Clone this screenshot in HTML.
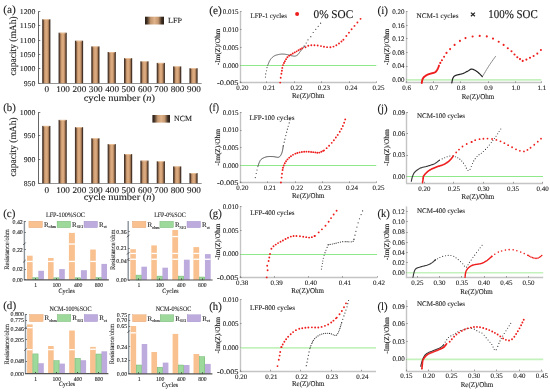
<!DOCTYPE html>
<html><head><meta charset="utf-8"><style>
html,body{margin:0;padding:0;background:#fff;}
svg{display:block;font-family:"Liberation Serif", serif;text-rendering:geometricPrecision;will-change:transform;filter:blur(0.3px);}
text{stroke:#222;stroke-width:0.1px;}
text.b{stroke-width:0.12px;}
</style></head><body>
<svg width="550" height="392" viewBox="0 0 550 392">
<rect width="550" height="392" fill="#fff"/>
<defs>
<linearGradient id="gb" x1="0" x2="1" y1="0" y2="0">
<stop offset="0" stop-color="#3b2c22"/><stop offset="0.13" stop-color="#5a4232"/><stop offset="0.28" stop-color="#c39167"/><stop offset="0.45" stop-color="#dcab80"/><stop offset="0.62" stop-color="#d8a67b"/><stop offset="0.78" stop-color="#a97b56"/><stop offset="0.9" stop-color="#4a3628"/><stop offset="1" stop-color="#3b2c22"/>
</linearGradient>
<linearGradient id="gbl" x1="0" x2="1" y1="0" y2="0">
<stop offset="0" stop-color="#2a1f18"/><stop offset="0.1" stop-color="#3e2e22"/><stop offset="0.3" stop-color="#c59870"/><stop offset="0.5" stop-color="#e0b28a"/><stop offset="0.7" stop-color="#c59870"/><stop offset="0.88" stop-color="#3e2e22"/><stop offset="1" stop-color="#2a1f18"/>
</linearGradient>
</defs>
<text class="b" x="3.2" y="12.7" font-size="11" text-anchor="start" fill="#1a1a1a" textLength="12.6" lengthAdjust="spacingAndGlyphs">(a)</text>
<line x1="38.5" y1="11.5" x2="38.5" y2="83.7" stroke="#555" stroke-width="0.9"/>
<line x1="38.3" y1="83.5" x2="201.7" y2="83.5" stroke="#888" stroke-width="0.9"/>
<line x1="38.3" y1="11.5" x2="40.3" y2="11.5" stroke="#555" stroke-width="0.8"/>
<text x="35.4" y="14.02" font-size="7.4" text-anchor="end" fill="#1a1a1a" textLength="15.6" lengthAdjust="spacingAndGlyphs">1200</text>
<line x1="38.3" y1="25.5" x2="40.3" y2="25.5" stroke="#555" stroke-width="0.8"/>
<text x="35.4" y="28.32" font-size="7.4" text-anchor="end" fill="#1a1a1a" textLength="15.6" lengthAdjust="spacingAndGlyphs">1150</text>
<line x1="38.3" y1="40.5" x2="40.3" y2="40.5" stroke="#555" stroke-width="0.8"/>
<text x="35.4" y="42.62" font-size="7.4" text-anchor="end" fill="#1a1a1a" textLength="15.6" lengthAdjust="spacingAndGlyphs">1100</text>
<line x1="38.3" y1="54.5" x2="40.3" y2="54.5" stroke="#555" stroke-width="0.8"/>
<text x="35.4" y="56.92" font-size="7.4" text-anchor="end" fill="#1a1a1a" textLength="15.6" lengthAdjust="spacingAndGlyphs">1050</text>
<line x1="38.3" y1="68.5" x2="40.3" y2="68.5" stroke="#555" stroke-width="0.8"/>
<text x="35.4" y="71.22" font-size="7.4" text-anchor="end" fill="#1a1a1a" textLength="15.6" lengthAdjust="spacingAndGlyphs">1000</text>
<line x1="38.3" y1="83.5" x2="40.3" y2="83.5" stroke="#555" stroke-width="0.8"/>
<text x="35.4" y="85.52" font-size="7.4" text-anchor="end" fill="#1a1a1a" textLength="11.7" lengthAdjust="spacingAndGlyphs">950</text>
<rect x="42.2" y="19.3" width="8.2" height="63.9" fill="url(#gb)"/>
<rect x="43.3" y="19.3" width="6" height="0.8" fill="#f0c9a2" opacity="0.8"/>
<text class="b" x="46.7" y="91.89" font-size="8.8" text-anchor="middle" fill="#1a1a1a" textLength="4.6" lengthAdjust="spacingAndGlyphs">0</text>
<rect x="58.56" y="32.7" width="8.2" height="50.5" fill="url(#gb)"/>
<rect x="59.66" y="32.7" width="6" height="0.8" fill="#f0c9a2" opacity="0.8"/>
<text class="b" x="63.06" y="91.89" font-size="8.8" text-anchor="middle" fill="#1a1a1a" textLength="13.8" lengthAdjust="spacingAndGlyphs">100</text>
<rect x="74.92" y="40.7" width="8.2" height="42.5" fill="url(#gb)"/>
<rect x="76.02" y="40.7" width="6" height="0.8" fill="#f0c9a2" opacity="0.8"/>
<text class="b" x="79.42" y="91.89" font-size="8.8" text-anchor="middle" fill="#1a1a1a" textLength="13.8" lengthAdjust="spacingAndGlyphs">200</text>
<rect x="91.28" y="46.4" width="8.2" height="36.8" fill="url(#gb)"/>
<rect x="92.38" y="46.4" width="6" height="0.8" fill="#f0c9a2" opacity="0.8"/>
<text class="b" x="95.78" y="91.89" font-size="8.8" text-anchor="middle" fill="#1a1a1a" textLength="13.8" lengthAdjust="spacingAndGlyphs">300</text>
<rect x="107.64" y="52" width="8.2" height="31.2" fill="url(#gb)"/>
<rect x="108.74" y="52" width="6" height="0.8" fill="#f0c9a2" opacity="0.8"/>
<text class="b" x="112.14" y="91.89" font-size="8.8" text-anchor="middle" fill="#1a1a1a" textLength="13.8" lengthAdjust="spacingAndGlyphs">400</text>
<rect x="124" y="58.2" width="8.2" height="25" fill="url(#gb)"/>
<rect x="125.1" y="58.2" width="6" height="0.8" fill="#f0c9a2" opacity="0.8"/>
<text class="b" x="128.5" y="91.89" font-size="8.8" text-anchor="middle" fill="#1a1a1a" textLength="13.8" lengthAdjust="spacingAndGlyphs">500</text>
<rect x="140.36" y="61.3" width="8.2" height="21.9" fill="url(#gb)"/>
<rect x="141.46" y="61.3" width="6" height="0.8" fill="#f0c9a2" opacity="0.8"/>
<text class="b" x="144.86" y="91.89" font-size="8.8" text-anchor="middle" fill="#1a1a1a" textLength="13.8" lengthAdjust="spacingAndGlyphs">600</text>
<rect x="156.72" y="62.9" width="8.2" height="20.3" fill="url(#gb)"/>
<rect x="157.82" y="62.9" width="6" height="0.8" fill="#f0c9a2" opacity="0.8"/>
<text class="b" x="161.22" y="91.89" font-size="8.8" text-anchor="middle" fill="#1a1a1a" textLength="13.8" lengthAdjust="spacingAndGlyphs">700</text>
<rect x="173.08" y="66.4" width="8.2" height="16.8" fill="url(#gb)"/>
<rect x="174.18" y="66.4" width="6" height="0.8" fill="#f0c9a2" opacity="0.8"/>
<text class="b" x="177.58" y="91.89" font-size="8.8" text-anchor="middle" fill="#1a1a1a" textLength="13.8" lengthAdjust="spacingAndGlyphs">800</text>
<rect x="189.44" y="68.2" width="8.2" height="15" fill="url(#gb)"/>
<rect x="190.54" y="68.2" width="6" height="0.8" fill="#f0c9a2" opacity="0.8"/>
<text class="b" x="193.94" y="91.89" font-size="8.8" text-anchor="middle" fill="#1a1a1a" textLength="13.8" lengthAdjust="spacingAndGlyphs">900</text>
<text class="b" x="12.6" y="49.3" font-size="9.7" text-anchor="middle" fill="#1a1a1a" transform="rotate(-90 12.6 46)" textLength="59.2" lengthAdjust="spacingAndGlyphs">capacity (mAh)</text>
<text class="b" x="119.3" y="100.9" font-size="9.5" text-anchor="middle" fill="#1a1a1a" textLength="71.3" lengthAdjust="spacingAndGlyphs">cycle number (<tspan font-style="italic">n</tspan>)</text>
<rect x="145" y="16.7" width="19" height="7.8" fill="url(#gbl)"/>
<text x="168" y="23.25" font-size="7.8" text-anchor="start" fill="#1a1a1a" textLength="14" lengthAdjust="spacingAndGlyphs">LFP</text>
<text class="b" x="3.2" y="111" font-size="11" text-anchor="start" fill="#1a1a1a" textLength="12.6" lengthAdjust="spacingAndGlyphs">(b)</text>
<line x1="38.5" y1="112.3" x2="38.5" y2="183.8" stroke="#555" stroke-width="0.9"/>
<line x1="38.3" y1="183.5" x2="201.7" y2="183.5" stroke="#888" stroke-width="0.9"/>
<line x1="38.3" y1="112.5" x2="40.3" y2="112.5" stroke="#555" stroke-width="0.8"/>
<text x="35.4" y="114.82" font-size="7.4" text-anchor="end" fill="#1a1a1a" textLength="15.6" lengthAdjust="spacingAndGlyphs">1000</text>
<line x1="38.3" y1="135.5" x2="40.3" y2="135.5" stroke="#555" stroke-width="0.8"/>
<text x="35.4" y="138.42" font-size="7.4" text-anchor="end" fill="#1a1a1a" textLength="11.7" lengthAdjust="spacingAndGlyphs">950</text>
<line x1="38.3" y1="159.5" x2="40.3" y2="159.5" stroke="#555" stroke-width="0.8"/>
<text x="35.4" y="162.12" font-size="7.4" text-anchor="end" fill="#1a1a1a" textLength="11.7" lengthAdjust="spacingAndGlyphs">900</text>
<line x1="38.3" y1="183.5" x2="40.3" y2="183.5" stroke="#555" stroke-width="0.8"/>
<text x="35.4" y="185.82" font-size="7.4" text-anchor="end" fill="#1a1a1a" textLength="11.7" lengthAdjust="spacingAndGlyphs">850</text>
<rect x="42.2" y="125.9" width="8.2" height="57.4" fill="url(#gb)"/>
<rect x="43.3" y="125.9" width="6" height="0.8" fill="#f0c9a2" opacity="0.8"/>
<text class="b" x="46.7" y="192.99" font-size="8.8" text-anchor="middle" fill="#1a1a1a" textLength="4.6" lengthAdjust="spacingAndGlyphs">0</text>
<rect x="58.56" y="119.9" width="8.2" height="63.4" fill="url(#gb)"/>
<rect x="59.66" y="119.9" width="6" height="0.8" fill="#f0c9a2" opacity="0.8"/>
<text class="b" x="63.06" y="192.99" font-size="8.8" text-anchor="middle" fill="#1a1a1a" textLength="13.8" lengthAdjust="spacingAndGlyphs">100</text>
<rect x="74.92" y="127.2" width="8.2" height="56.1" fill="url(#gb)"/>
<rect x="76.02" y="127.2" width="6" height="0.8" fill="#f0c9a2" opacity="0.8"/>
<text class="b" x="79.42" y="192.99" font-size="8.8" text-anchor="middle" fill="#1a1a1a" textLength="13.8" lengthAdjust="spacingAndGlyphs">200</text>
<rect x="91.28" y="138.3" width="8.2" height="45" fill="url(#gb)"/>
<rect x="92.38" y="138.3" width="6" height="0.8" fill="#f0c9a2" opacity="0.8"/>
<text class="b" x="95.78" y="192.99" font-size="8.8" text-anchor="middle" fill="#1a1a1a" textLength="13.8" lengthAdjust="spacingAndGlyphs">300</text>
<rect x="107.64" y="144.1" width="8.2" height="39.2" fill="url(#gb)"/>
<rect x="108.74" y="144.1" width="6" height="0.8" fill="#f0c9a2" opacity="0.8"/>
<text class="b" x="112.14" y="192.99" font-size="8.8" text-anchor="middle" fill="#1a1a1a" textLength="13.8" lengthAdjust="spacingAndGlyphs">400</text>
<rect x="124" y="154.1" width="8.2" height="29.2" fill="url(#gb)"/>
<rect x="125.1" y="154.1" width="6" height="0.8" fill="#f0c9a2" opacity="0.8"/>
<text class="b" x="128.5" y="192.99" font-size="8.8" text-anchor="middle" fill="#1a1a1a" textLength="13.8" lengthAdjust="spacingAndGlyphs">500</text>
<rect x="140.36" y="160.6" width="8.2" height="22.7" fill="url(#gb)"/>
<rect x="141.46" y="160.6" width="6" height="0.8" fill="#f0c9a2" opacity="0.8"/>
<text class="b" x="144.86" y="192.99" font-size="8.8" text-anchor="middle" fill="#1a1a1a" textLength="13.8" lengthAdjust="spacingAndGlyphs">600</text>
<rect x="156.72" y="161.3" width="8.2" height="22" fill="url(#gb)"/>
<rect x="157.82" y="161.3" width="6" height="0.8" fill="#f0c9a2" opacity="0.8"/>
<text class="b" x="161.22" y="192.99" font-size="8.8" text-anchor="middle" fill="#1a1a1a" textLength="13.8" lengthAdjust="spacingAndGlyphs">700</text>
<rect x="173.08" y="166.4" width="8.2" height="16.9" fill="url(#gb)"/>
<rect x="174.18" y="166.4" width="6" height="0.8" fill="#f0c9a2" opacity="0.8"/>
<text class="b" x="177.58" y="192.99" font-size="8.8" text-anchor="middle" fill="#1a1a1a" textLength="13.8" lengthAdjust="spacingAndGlyphs">800</text>
<rect x="189.44" y="173.1" width="8.2" height="10.2" fill="url(#gb)"/>
<rect x="190.54" y="173.1" width="6" height="0.8" fill="#f0c9a2" opacity="0.8"/>
<text class="b" x="193.94" y="192.99" font-size="8.8" text-anchor="middle" fill="#1a1a1a" textLength="13.8" lengthAdjust="spacingAndGlyphs">900</text>
<text class="b" x="12.6" y="150.3" font-size="9.7" text-anchor="middle" fill="#1a1a1a" transform="rotate(-90 12.6 147)" textLength="59.2" lengthAdjust="spacingAndGlyphs">capacity (mAh)</text>
<text class="b" x="119.3" y="200.4" font-size="9.5" text-anchor="middle" fill="#1a1a1a" textLength="71.3" lengthAdjust="spacingAndGlyphs">cycle number (<tspan font-style="italic">n</tspan>)</text>
<rect x="152.4" y="115" width="17.6" height="7.6" fill="url(#gbl)"/>
<text x="174" y="121.45" font-size="7.8" text-anchor="start" fill="#1a1a1a" textLength="17.9" lengthAdjust="spacingAndGlyphs">NCM</text>
<text class="b" x="3.2" y="216.6" font-size="11" text-anchor="start" fill="#1a1a1a" textLength="12.2" lengthAdjust="spacingAndGlyphs">(c)</text>
<text class="b" x="3.2" y="309.3" font-size="11" text-anchor="start" fill="#1a1a1a" textLength="12.9" lengthAdjust="spacingAndGlyphs">(d)</text>
<line x1="24.4" y1="221" x2="24.4" y2="279.8" stroke="#8a929a" stroke-width="1.4"/>
<line x1="24.4" y1="221.5" x2="25.9" y2="221.5" stroke="#555" stroke-width="0.8"/>
<text x="22.8" y="223.61" font-size="5.9" text-anchor="end" fill="#1a1a1a" textLength="10.33" lengthAdjust="spacingAndGlyphs">0.42</text>
<line x1="24.4" y1="232.5" x2="25.9" y2="232.5" stroke="#555" stroke-width="0.8"/>
<text x="22.8" y="234.21" font-size="5.9" text-anchor="end" fill="#1a1a1a" textLength="10.33" lengthAdjust="spacingAndGlyphs">0.40</text>
<line x1="24.4" y1="249.5" x2="25.9" y2="249.5" stroke="#555" stroke-width="0.8"/>
<text x="22.8" y="251.61" font-size="5.9" text-anchor="end" fill="#1a1a1a" textLength="10.33" lengthAdjust="spacingAndGlyphs">0.22</text>
<line x1="24.4" y1="269.5" x2="25.9" y2="269.5" stroke="#555" stroke-width="0.8"/>
<text x="22.8" y="271.31" font-size="5.9" text-anchor="end" fill="#1a1a1a" textLength="10.33" lengthAdjust="spacingAndGlyphs">0.02</text>
<line x1="24.4" y1="279.5" x2="25.9" y2="279.5" stroke="#555" stroke-width="0.8"/>
<text x="22.8" y="281.81" font-size="5.9" text-anchor="end" fill="#1a1a1a" textLength="10.33" lengthAdjust="spacingAndGlyphs">0.00</text>
<line x1="23.2" y1="245" x2="25.6" y2="242.6" stroke="#444" stroke-width="0.9"/>
<line x1="23.2" y1="262.4" x2="25.6" y2="260" stroke="#444" stroke-width="0.9"/>
<text x="45.9" y="217.1" font-size="6.8" text-anchor="start" fill="#1a1a1a" textLength="39.1" lengthAdjust="spacingAndGlyphs">LFP-100%SOC</text>
<rect x="28.9" y="221.2" width="13.5" height="6.5" fill="#f9c18f" stroke="#e0a070" stroke-width="0.4"/>
<text x="43.9" y="226.85" font-size="7" fill="#222">R<tspan font-size="4.2" dy="1.6">ohm</tspan></text>
<rect x="57.1" y="221.2" width="13.5" height="6.5" fill="#9dd99a" stroke="#70b070" stroke-width="0.4"/>
<text x="72.1" y="226.85" font-size="7" fill="#222">R<tspan font-size="4.2" dy="1.6">SEI</tspan></text>
<rect x="84" y="221.2" width="13.5" height="6.5" fill="#bdabdd" stroke="#a090c8" stroke-width="0.4"/>
<text x="99" y="226.85" font-size="7" fill="#222">R<tspan font-size="4.2" dy="1.6">ct</tspan></text>
<rect x="27" y="255.7" width="5.65" height="24.1" fill="#f9c18f"/>
<rect x="32.65" y="277.7" width="5.65" height="2.1" fill="#9dd99a"/>
<rect x="38.3" y="270.8" width="5.65" height="9" fill="#bdabdd"/>
<rect x="32.85" y="277.7" width="5.25" height="2.1" fill="none" stroke="#6fb06f" stroke-width="0.45"/>
<line x1="35.5" y1="279.8" x2="35.5" y2="278.2" stroke="#333" stroke-width="0.8"/>
<text x="35.77" y="286.54" font-size="6" text-anchor="middle" fill="#1a1a1a" textLength="2.85" lengthAdjust="spacingAndGlyphs">1</text>
<rect x="48" y="258" width="5.6" height="21.8" fill="#f9c18f"/>
<rect x="53.6" y="277.8" width="5.6" height="2" fill="#9dd99a"/>
<rect x="59.2" y="269.1" width="5.6" height="10.7" fill="#bdabdd"/>
<rect x="53.8" y="277.8" width="5.2" height="2" fill="none" stroke="#6fb06f" stroke-width="0.45"/>
<line x1="56.5" y1="279.8" x2="56.5" y2="278.2" stroke="#333" stroke-width="0.8"/>
<text x="56.7" y="286.54" font-size="6" text-anchor="middle" fill="#1a1a1a" textLength="8.55" lengthAdjust="spacingAndGlyphs">100</text>
<rect x="68.9" y="232.9" width="6" height="46.9" fill="#f9c18f"/>
<rect x="74.9" y="277.8" width="6" height="2" fill="#9dd99a"/>
<rect x="80.9" y="270.2" width="6" height="9.6" fill="#bdabdd"/>
<rect x="75.1" y="277.8" width="5.6" height="2" fill="none" stroke="#6fb06f" stroke-width="0.45"/>
<line x1="77.5" y1="279.8" x2="77.5" y2="278.2" stroke="#333" stroke-width="0.8"/>
<text x="78.2" y="286.54" font-size="6" text-anchor="middle" fill="#1a1a1a" textLength="8.55" lengthAdjust="spacingAndGlyphs">400</text>
<rect x="90.2" y="249.5" width="5.6" height="30.3" fill="#f9c18f"/>
<rect x="95.8" y="277.6" width="5.6" height="2.2" fill="#9dd99a"/>
<rect x="101.4" y="263.9" width="5.6" height="15.9" fill="#bdabdd"/>
<rect x="96" y="277.6" width="5.2" height="2.2" fill="none" stroke="#6fb06f" stroke-width="0.45"/>
<line x1="98.5" y1="279.8" x2="98.5" y2="278.2" stroke="#333" stroke-width="0.8"/>
<text x="98.9" y="286.54" font-size="6" text-anchor="middle" fill="#1a1a1a" textLength="8.55" lengthAdjust="spacingAndGlyphs">800</text>
<rect x="27" y="260.8" width="6" height="1.3" fill="#ffffff"/>
<rect x="48" y="260.8" width="6" height="1.3" fill="#ffffff"/>
<rect x="68.9" y="260.8" width="6.1" height="1.3" fill="#ffffff"/>
<rect x="68.9" y="243.4" width="6.1" height="1.3" fill="#ffffff"/>
<rect x="90.2" y="260.8" width="5.8" height="1.3" fill="#ffffff"/>
<line x1="23.9" y1="279.8" x2="108.9" y2="279.8" stroke="#555" stroke-width="1.2"/>
<text x="6.7" y="251.71" font-size="6.8" text-anchor="middle" fill="#1a1a1a" transform="rotate(-90 6.7 249.4)" textLength="40.5" lengthAdjust="spacingAndGlyphs">Resistance/ohm</text>
<text x="66.7" y="292.74" font-size="6.6" text-anchor="middle" fill="#1a1a1a" textLength="16.3" lengthAdjust="spacingAndGlyphs">Cycles</text>
<line x1="128.2" y1="221" x2="128.2" y2="280" stroke="#8a929a" stroke-width="1.4"/>
<line x1="128.2" y1="231.5" x2="129.7" y2="231.5" stroke="#555" stroke-width="0.8"/>
<text x="126.6" y="233.51" font-size="5.9" text-anchor="end" fill="#1a1a1a" textLength="10.33" lengthAdjust="spacingAndGlyphs">0.36</text>
<line x1="128.2" y1="248.5" x2="129.7" y2="248.5" stroke="#555" stroke-width="0.8"/>
<text x="126.6" y="250.01" font-size="5.9" text-anchor="end" fill="#1a1a1a" textLength="10.33" lengthAdjust="spacingAndGlyphs">0.21</text>
<line x1="128.2" y1="260.5" x2="129.7" y2="260.5" stroke="#555" stroke-width="0.8"/>
<text x="126.6" y="262.61" font-size="5.9" text-anchor="end" fill="#1a1a1a" textLength="10.33" lengthAdjust="spacingAndGlyphs">0.04</text>
<line x1="128.2" y1="280.5" x2="129.7" y2="280.5" stroke="#555" stroke-width="0.8"/>
<text x="126.6" y="282.01" font-size="5.9" text-anchor="end" fill="#1a1a1a" textLength="10.33" lengthAdjust="spacingAndGlyphs">0.00</text>
<line x1="127" y1="237.2" x2="129.4" y2="234.8" stroke="#444" stroke-width="0.9"/>
<line x1="127" y1="254.5" x2="129.4" y2="252.1" stroke="#444" stroke-width="0.9"/>
<line x1="127" y1="260.4" x2="129.4" y2="258" stroke="#444" stroke-width="0.9"/>
<text x="154.2" y="217.1" font-size="6.8" text-anchor="start" fill="#1a1a1a" textLength="31.6" lengthAdjust="spacingAndGlyphs">LFP-0%SOC</text>
<rect x="132.4" y="221.3" width="13.5" height="6.4" fill="#f9c18f" stroke="#e0a070" stroke-width="0.4"/>
<text x="147.4" y="226.9" font-size="7" fill="#222">R<tspan font-size="4.2" dy="1.6">ohm</tspan></text>
<rect x="159.9" y="221.3" width="13.5" height="6.4" fill="#9dd99a" stroke="#70b070" stroke-width="0.4"/>
<text x="174.9" y="226.9" font-size="7" fill="#222">R<tspan font-size="4.2" dy="1.6">SEI</tspan></text>
<rect x="187" y="221.3" width="13.5" height="6.4" fill="#bdabdd" stroke="#a090c8" stroke-width="0.4"/>
<text x="202" y="226.9" font-size="7" fill="#222">R<tspan font-size="4.2" dy="1.6">ct</tspan></text>
<rect x="130.3" y="249.2" width="5.55" height="30.8" fill="#f9c18f"/>
<rect x="135.85" y="275.1" width="5.55" height="4.9" fill="#9dd99a"/>
<rect x="141.4" y="266.7" width="5.55" height="13.3" fill="#bdabdd"/>
<rect x="136.05" y="275.1" width="5.15" height="4.9" fill="none" stroke="#6fb06f" stroke-width="0.45"/>
<line x1="138.5" y1="280" x2="138.5" y2="278.4" stroke="#333" stroke-width="0.8"/>
<text x="138.93" y="286.74" font-size="6" text-anchor="middle" fill="#1a1a1a" textLength="2.85" lengthAdjust="spacingAndGlyphs">1</text>
<rect x="151.3" y="245.4" width="5.55" height="34.6" fill="#f9c18f"/>
<rect x="156.85" y="276.1" width="5.55" height="3.9" fill="#9dd99a"/>
<rect x="162.4" y="267.7" width="5.55" height="12.3" fill="#bdabdd"/>
<rect x="157.05" y="276.1" width="5.15" height="3.9" fill="none" stroke="#6fb06f" stroke-width="0.45"/>
<line x1="159.5" y1="280" x2="159.5" y2="278.4" stroke="#333" stroke-width="0.8"/>
<text x="159.93" y="286.74" font-size="6" text-anchor="middle" fill="#1a1a1a" textLength="8.55" lengthAdjust="spacingAndGlyphs">100</text>
<rect x="172.3" y="230" width="5.8" height="50" fill="#f9c18f"/>
<rect x="178.1" y="276.1" width="5.8" height="3.9" fill="#9dd99a"/>
<rect x="183.9" y="259.7" width="5.8" height="20.3" fill="#bdabdd"/>
<rect x="178.3" y="276.1" width="5.4" height="3.9" fill="none" stroke="#6fb06f" stroke-width="0.45"/>
<line x1="181.5" y1="280" x2="181.5" y2="278.4" stroke="#333" stroke-width="0.8"/>
<text x="181.3" y="286.74" font-size="6" text-anchor="middle" fill="#1a1a1a" textLength="8.55" lengthAdjust="spacingAndGlyphs">400</text>
<rect x="193.4" y="247.1" width="5.77" height="32.9" fill="#f9c18f"/>
<rect x="199.17" y="277" width="5.77" height="3" fill="#9dd99a"/>
<rect x="204.94" y="254.1" width="5.77" height="25.9" fill="#bdabdd"/>
<rect x="199.37" y="277" width="5.37" height="3" fill="none" stroke="#6fb06f" stroke-width="0.45"/>
<line x1="202.5" y1="280" x2="202.5" y2="278.4" stroke="#333" stroke-width="0.8"/>
<text x="202.36" y="286.74" font-size="6" text-anchor="middle" fill="#1a1a1a" textLength="8.55" lengthAdjust="spacingAndGlyphs">800</text>
<rect x="130.3" y="252.8" width="5.7" height="1.3" fill="#ffffff"/>
<rect x="130.3" y="258.6" width="5.7" height="1.3" fill="#ffffff"/>
<rect x="151.3" y="252.8" width="5.7" height="1.3" fill="#ffffff"/>
<rect x="151.3" y="258.6" width="5.7" height="1.3" fill="#ffffff"/>
<rect x="172.3" y="235.9" width="5.9" height="1.3" fill="#ffffff"/>
<rect x="172.3" y="252.8" width="5.9" height="1.3" fill="#ffffff"/>
<rect x="172.3" y="258.6" width="5.9" height="1.3" fill="#ffffff"/>
<rect x="193.4" y="252.8" width="6.3" height="1.3" fill="#ffffff"/>
<rect x="193.4" y="258.6" width="6.3" height="1.3" fill="#ffffff"/>
<rect x="204.9" y="258.6" width="5.8" height="1.3" fill="#ffffff"/>
<line x1="127.7" y1="280" x2="212.6" y2="280" stroke="#555" stroke-width="1.2"/>
<text x="112.2" y="252.01" font-size="6.8" text-anchor="middle" fill="#1a1a1a" transform="rotate(-90 112.2 249.7)" textLength="40.5" lengthAdjust="spacingAndGlyphs">Resistance/ohm</text>
<text x="170.5" y="292.74" font-size="6.6" text-anchor="middle" fill="#1a1a1a" textLength="16.3" lengthAdjust="spacingAndGlyphs">Cycles</text>
<line x1="25.5" y1="313.9" x2="25.5" y2="373.6" stroke="#8a929a" stroke-width="1.4"/>
<line x1="25.5" y1="314.5" x2="27" y2="314.5" stroke="#555" stroke-width="0.8"/>
<text x="23.9" y="316.31" font-size="5.9" text-anchor="end" fill="#1a1a1a" textLength="13.28" lengthAdjust="spacingAndGlyphs">0.800</text>
<line x1="25.5" y1="320.5" x2="27" y2="320.5" stroke="#555" stroke-width="0.8"/>
<text x="23.9" y="322.41" font-size="5.9" text-anchor="end" fill="#1a1a1a" textLength="13.28" lengthAdjust="spacingAndGlyphs">0.775</text>
<line x1="25.5" y1="328.5" x2="27" y2="328.5" stroke="#555" stroke-width="0.8"/>
<text x="23.9" y="330.91" font-size="5.9" text-anchor="end" fill="#1a1a1a" textLength="13.28" lengthAdjust="spacingAndGlyphs">0.246</text>
<line x1="25.5" y1="339.5" x2="27" y2="339.5" stroke="#555" stroke-width="0.8"/>
<text x="23.9" y="341.61" font-size="5.9" text-anchor="end" fill="#1a1a1a" textLength="13.28" lengthAdjust="spacingAndGlyphs">0.205</text>
<line x1="25.5" y1="361.5" x2="27" y2="361.5" stroke="#555" stroke-width="0.8"/>
<text x="23.9" y="363.31" font-size="5.9" text-anchor="end" fill="#1a1a1a" textLength="13.28" lengthAdjust="spacingAndGlyphs">0.048</text>
<line x1="25.5" y1="373.5" x2="27" y2="373.5" stroke="#555" stroke-width="0.8"/>
<text x="23.9" y="375.61" font-size="5.9" text-anchor="end" fill="#1a1a1a" textLength="13.28" lengthAdjust="spacingAndGlyphs">0.000</text>
<line x1="24.3" y1="329.1" x2="26.7" y2="326.7" stroke="#444" stroke-width="0.9"/>
<line x1="24.3" y1="350.8" x2="26.7" y2="348.4" stroke="#444" stroke-width="0.9"/>
<text x="49.6" y="310.6" font-size="6.8" text-anchor="start" fill="#1a1a1a" textLength="41.9" lengthAdjust="spacingAndGlyphs">NCM-100%SOC</text>
<rect x="29.6" y="314.5" width="13.5" height="7.1" fill="#f9c18f" stroke="#e0a070" stroke-width="0.4"/>
<text x="44.6" y="320.45" font-size="7" fill="#222">R<tspan font-size="4.2" dy="1.6">ohm</tspan></text>
<rect x="57.3" y="314.5" width="13.5" height="7.1" fill="#9dd99a" stroke="#70b070" stroke-width="0.4"/>
<text x="72.3" y="320.45" font-size="7" fill="#222">R<tspan font-size="4.2" dy="1.6">SEI</tspan></text>
<rect x="84.2" y="314.5" width="13.5" height="7.1" fill="#bdabdd" stroke="#a090c8" stroke-width="0.4"/>
<text x="99.2" y="320.45" font-size="7" fill="#222">R<tspan font-size="4.2" dy="1.6">ct</tspan></text>
<rect x="27.1" y="324.4" width="5.57" height="49.2" fill="#f9c18f"/>
<rect x="32.67" y="353.9" width="5.57" height="19.7" fill="#9dd99a"/>
<rect x="38.24" y="363.2" width="5.57" height="10.4" fill="#bdabdd"/>
<rect x="32.87" y="353.9" width="5.17" height="19.7" fill="none" stroke="#6fb06f" stroke-width="0.45"/>
<line x1="35.5" y1="373.6" x2="35.5" y2="372" stroke="#333" stroke-width="0.8"/>
<text x="35.75" y="380.74" font-size="6" text-anchor="middle" fill="#1a1a1a" textLength="2.85" lengthAdjust="spacingAndGlyphs">1</text>
<rect x="48.1" y="346" width="5.6" height="27.6" fill="#f9c18f"/>
<rect x="53.7" y="360.6" width="5.6" height="13" fill="#9dd99a"/>
<rect x="59.3" y="363.6" width="5.6" height="10" fill="#bdabdd"/>
<rect x="53.9" y="360.6" width="5.2" height="13" fill="none" stroke="#6fb06f" stroke-width="0.45"/>
<line x1="56.5" y1="373.6" x2="56.5" y2="372" stroke="#333" stroke-width="0.8"/>
<text x="56.8" y="380.74" font-size="6" text-anchor="middle" fill="#1a1a1a" textLength="8.55" lengthAdjust="spacingAndGlyphs">100</text>
<rect x="69.2" y="330.5" width="5.63" height="43.1" fill="#f9c18f"/>
<rect x="74.83" y="358.3" width="5.63" height="15.3" fill="#9dd99a"/>
<rect x="80.46" y="360.2" width="5.63" height="13.4" fill="#bdabdd"/>
<rect x="75.03" y="358.3" width="5.23" height="15.3" fill="none" stroke="#6fb06f" stroke-width="0.45"/>
<line x1="77.5" y1="373.6" x2="77.5" y2="372" stroke="#333" stroke-width="0.8"/>
<text x="77.95" y="380.74" font-size="6" text-anchor="middle" fill="#1a1a1a" textLength="8.55" lengthAdjust="spacingAndGlyphs">400</text>
<rect x="90.1" y="346.9" width="5.67" height="26.7" fill="#f9c18f"/>
<rect x="95.77" y="354" width="5.67" height="19.6" fill="#9dd99a"/>
<rect x="101.44" y="351.3" width="5.67" height="22.3" fill="#bdabdd"/>
<rect x="95.97" y="354" width="5.27" height="19.6" fill="none" stroke="#6fb06f" stroke-width="0.45"/>
<line x1="98.5" y1="373.6" x2="98.5" y2="372" stroke="#333" stroke-width="0.8"/>
<text x="98.9" y="380.74" font-size="6" text-anchor="middle" fill="#1a1a1a" textLength="8.55" lengthAdjust="spacingAndGlyphs">800</text>
<rect x="27.1" y="327" width="5.6" height="1.3" fill="#ffffff"/>
<rect x="27.1" y="349" width="5.6" height="1.3" fill="#ffffff"/>
<rect x="48.1" y="349" width="5.7" height="1.3" fill="#ffffff"/>
<rect x="69.2" y="349" width="5.6" height="1.3" fill="#ffffff"/>
<rect x="90.1" y="348.6" width="5.7" height="1.3" fill="#ffffff"/>
<line x1="25" y1="373.6" x2="108.4" y2="373.6" stroke="#555" stroke-width="1.2"/>
<text x="6.7" y="346.61" font-size="6.8" text-anchor="middle" fill="#1a1a1a" transform="rotate(-90 6.7 344.3)" textLength="40.5" lengthAdjust="spacingAndGlyphs">Resistance/ohm</text>
<text x="67" y="386.44" font-size="6.6" text-anchor="middle" fill="#1a1a1a" textLength="16.3" lengthAdjust="spacingAndGlyphs">Cycles</text>
<line x1="128.7" y1="314.2" x2="128.7" y2="373.9" stroke="#8a929a" stroke-width="1.4"/>
<line x1="128.7" y1="314.5" x2="130.2" y2="314.5" stroke="#555" stroke-width="0.8"/>
<text x="127.1" y="316.81" font-size="5.9" text-anchor="end" fill="#1a1a1a" textLength="10.33" lengthAdjust="spacingAndGlyphs">0.75</text>
<line x1="128.7" y1="320.5" x2="130.2" y2="320.5" stroke="#555" stroke-width="0.8"/>
<text x="127.1" y="322.31" font-size="5.9" text-anchor="end" fill="#1a1a1a" textLength="10.33" lengthAdjust="spacingAndGlyphs">0.70</text>
<line x1="128.7" y1="326.5" x2="130.2" y2="326.5" stroke="#555" stroke-width="0.8"/>
<text x="127.1" y="328.31" font-size="5.9" text-anchor="end" fill="#1a1a1a" textLength="10.33" lengthAdjust="spacingAndGlyphs">0.65</text>
<line x1="128.7" y1="346.5" x2="130.2" y2="346.5" stroke="#555" stroke-width="0.8"/>
<text x="127.1" y="348.71" font-size="5.9" text-anchor="end" fill="#1a1a1a" textLength="10.33" lengthAdjust="spacingAndGlyphs">0.24</text>
<line x1="128.7" y1="360.5" x2="130.2" y2="360.5" stroke="#555" stroke-width="0.8"/>
<text x="127.1" y="362.41" font-size="5.9" text-anchor="end" fill="#1a1a1a" textLength="10.33" lengthAdjust="spacingAndGlyphs">0.12</text>
<line x1="128.7" y1="373.5" x2="130.2" y2="373.5" stroke="#555" stroke-width="0.8"/>
<text x="127.1" y="375.91" font-size="5.9" text-anchor="end" fill="#1a1a1a" textLength="10.33" lengthAdjust="spacingAndGlyphs">0.00</text>
<line x1="127.5" y1="332.8" x2="129.9" y2="330.4" stroke="#444" stroke-width="0.9"/>
<text x="155.7" y="310.6" font-size="6.8" text-anchor="start" fill="#1a1a1a" textLength="35.6" lengthAdjust="spacingAndGlyphs">NCM-0%SOC</text>
<rect x="132.6" y="314.8" width="13.5" height="7" fill="#f9c18f" stroke="#e0a070" stroke-width="0.4"/>
<text x="147.6" y="320.7" font-size="7" fill="#222">R<tspan font-size="4.2" dy="1.6">ohm</tspan></text>
<rect x="160.2" y="314.8" width="13.5" height="7" fill="#9dd99a" stroke="#70b070" stroke-width="0.4"/>
<text x="175.2" y="320.7" font-size="7" fill="#222">R<tspan font-size="4.2" dy="1.6">SEI</tspan></text>
<rect x="187.2" y="314.8" width="13.5" height="7" fill="#bdabdd" stroke="#a090c8" stroke-width="0.4"/>
<text x="202.2" y="320.7" font-size="7" fill="#222">R<tspan font-size="4.2" dy="1.6">ct</tspan></text>
<rect x="130.6" y="326" width="5.55" height="47.9" fill="#f9c18f"/>
<rect x="136.15" y="365" width="5.55" height="8.9" fill="#9dd99a"/>
<rect x="141.7" y="344" width="5.55" height="29.9" fill="#bdabdd"/>
<rect x="136.35" y="365" width="5.15" height="8.9" fill="none" stroke="#6fb06f" stroke-width="0.45"/>
<line x1="138.5" y1="373.9" x2="138.5" y2="372.3" stroke="#333" stroke-width="0.8"/>
<text x="139.22" y="381.04" font-size="6" text-anchor="middle" fill="#1a1a1a" textLength="2.85" lengthAdjust="spacingAndGlyphs">1</text>
<rect x="151.4" y="352" width="5.67" height="21.9" fill="#f9c18f"/>
<rect x="157.07" y="367.2" width="5.67" height="6.7" fill="#9dd99a"/>
<rect x="162.74" y="362.6" width="5.67" height="11.3" fill="#bdabdd"/>
<rect x="157.27" y="367.2" width="5.27" height="6.7" fill="none" stroke="#6fb06f" stroke-width="0.45"/>
<line x1="159.5" y1="373.9" x2="159.5" y2="372.3" stroke="#333" stroke-width="0.8"/>
<text x="160.21" y="381.04" font-size="6" text-anchor="middle" fill="#1a1a1a" textLength="8.55" lengthAdjust="spacingAndGlyphs">100</text>
<rect x="172.6" y="333.9" width="5.63" height="40" fill="#f9c18f"/>
<rect x="178.23" y="365" width="5.63" height="8.9" fill="#9dd99a"/>
<rect x="183.86" y="365" width="5.63" height="8.9" fill="#bdabdd"/>
<rect x="178.43" y="365" width="5.23" height="8.9" fill="none" stroke="#6fb06f" stroke-width="0.45"/>
<line x1="181.5" y1="373.9" x2="181.5" y2="372.3" stroke="#333" stroke-width="0.8"/>
<text x="181.34" y="381.04" font-size="6" text-anchor="middle" fill="#1a1a1a" textLength="8.55" lengthAdjust="spacingAndGlyphs">400</text>
<rect x="193.5" y="354" width="5.73" height="19.9" fill="#f9c18f"/>
<rect x="199.23" y="356.6" width="5.73" height="17.3" fill="#9dd99a"/>
<rect x="204.96" y="363.9" width="5.73" height="10" fill="#bdabdd"/>
<rect x="199.43" y="356.6" width="5.33" height="17.3" fill="none" stroke="#6fb06f" stroke-width="0.45"/>
<line x1="202.5" y1="373.9" x2="202.5" y2="372.3" stroke="#333" stroke-width="0.8"/>
<text x="202.4" y="381.04" font-size="6" text-anchor="middle" fill="#1a1a1a" textLength="8.55" lengthAdjust="spacingAndGlyphs">800</text>
<rect x="130.6" y="332.2" width="5.3" height="1.3" fill="#ffffff"/>
<line x1="128.2" y1="373.9" x2="212.4" y2="373.9" stroke="#555" stroke-width="1.2"/>
<text x="112.2" y="346.31" font-size="6.8" text-anchor="middle" fill="#1a1a1a" transform="rotate(-90 112.2 344)" textLength="40.5" lengthAdjust="spacingAndGlyphs">Resistance/ohm</text>
<text x="170" y="386.84" font-size="6.6" text-anchor="middle" fill="#1a1a1a" textLength="16.3" lengthAdjust="spacingAndGlyphs">Cycles</text>
<line x1="240.5" y1="11.2" x2="240.5" y2="82.8" stroke="#c4c4c4" stroke-width="1.4"/>
<line x1="239.6" y1="82.5" x2="376.3" y2="82.5" stroke="#c4c4c4" stroke-width="1.4"/>
<line x1="240.1" y1="11.5" x2="241.6" y2="11.5" stroke="#666" stroke-width="0.6"/>
<text x="238.5" y="14.08" font-size="7" text-anchor="end" fill="#1a1a1a" textLength="15.75" lengthAdjust="spacingAndGlyphs">0.015</text>
<line x1="240.1" y1="29.5" x2="241.6" y2="29.5" stroke="#666" stroke-width="0.6"/>
<text x="238.5" y="31.98" font-size="7" text-anchor="end" fill="#1a1a1a" textLength="15.75" lengthAdjust="spacingAndGlyphs">0.010</text>
<line x1="240.1" y1="47.5" x2="241.6" y2="47.5" stroke="#666" stroke-width="0.6"/>
<text x="238.5" y="49.78" font-size="7" text-anchor="end" fill="#1a1a1a" textLength="15.75" lengthAdjust="spacingAndGlyphs">0.005</text>
<line x1="240.1" y1="65.5" x2="241.6" y2="65.5" stroke="#666" stroke-width="0.6"/>
<text x="238.5" y="67.68" font-size="7" text-anchor="end" fill="#1a1a1a" textLength="15.75" lengthAdjust="spacingAndGlyphs">0.000</text>
<line x1="240.1" y1="82.5" x2="241.6" y2="82.5" stroke="#666" stroke-width="0.6"/>
<text x="238.5" y="85.18" font-size="7" text-anchor="end" fill="#1a1a1a" textLength="21.55" lengthAdjust="spacingAndGlyphs">-0.005</text>
<line x1="240.5" y1="82.8" x2="240.5" y2="81.3" stroke="#666" stroke-width="0.6"/>
<text x="242.3" y="90.11" font-size="6.8" text-anchor="middle" fill="#1a1a1a" textLength="12.25" lengthAdjust="spacingAndGlyphs">0.20</text>
<line x1="266.5" y1="82.8" x2="266.5" y2="81.3" stroke="#666" stroke-width="0.6"/>
<text x="269.1" y="90.11" font-size="6.8" text-anchor="middle" fill="#1a1a1a" textLength="12.25" lengthAdjust="spacingAndGlyphs">0.21</text>
<line x1="294.5" y1="82.8" x2="294.5" y2="81.3" stroke="#666" stroke-width="0.6"/>
<text x="296.5" y="90.11" font-size="6.8" text-anchor="middle" fill="#1a1a1a" textLength="12.25" lengthAdjust="spacingAndGlyphs">0.22</text>
<line x1="321.5" y1="82.8" x2="321.5" y2="81.3" stroke="#666" stroke-width="0.6"/>
<text x="323.9" y="90.11" font-size="6.8" text-anchor="middle" fill="#1a1a1a" textLength="12.25" lengthAdjust="spacingAndGlyphs">0.23</text>
<line x1="349.5" y1="82.8" x2="349.5" y2="81.3" stroke="#666" stroke-width="0.6"/>
<text x="351.2" y="90.11" font-size="6.8" text-anchor="middle" fill="#1a1a1a" textLength="12.25" lengthAdjust="spacingAndGlyphs">0.24</text>
<line x1="376.5" y1="82.8" x2="376.5" y2="81.3" stroke="#666" stroke-width="0.6"/>
<text x="378.5" y="90.11" font-size="6.8" text-anchor="middle" fill="#1a1a1a" textLength="12.25" lengthAdjust="spacingAndGlyphs">0.25</text>
<line x1="240.6" y1="65.5" x2="376.3" y2="65.5" stroke="#8fe88a" stroke-width="1"/>
<text class="b" x="209.3" y="13.5" font-size="11.3" text-anchor="start" fill="#1a1a1a" textLength="12.6" lengthAdjust="spacingAndGlyphs">(e)</text>
<text x="250.6" y="17.6" font-size="7" text-anchor="start" fill="#1a1a1a" textLength="36.3" lengthAdjust="spacingAndGlyphs">LFP-1 cycles</text>
<text x="217.9" y="49.52" font-size="7.4" text-anchor="middle" fill="#1a1a1a" transform="rotate(-90 217.9 47)" textLength="36.5" lengthAdjust="spacingAndGlyphs">-Im(Z)/Ohm</text>
<text x="308.2" y="98" font-size="7.4" text-anchor="middle" fill="#1a1a1a" textLength="32.5" lengthAdjust="spacingAndGlyphs">Re(Z)/Ohm</text>
<circle cx="265.4" cy="77.1" r="0.55" fill="#333333"/>
<circle cx="265.7" cy="73.9" r="0.55" fill="#333333"/>
<circle cx="266.4" cy="70.7" r="0.55" fill="#333333"/>
<circle cx="267" cy="67.6" r="0.55" fill="#333333"/>
<polyline fill="none" stroke="#444" stroke-width="0.85" stroke-linejoin="round" stroke-linecap="round" points="267.7,65.4 267.82,65.13 267.96,64.78 268.12,64.37 268.3,63.91 268.5,63.41 268.71,62.89 268.94,62.35 269.18,61.81 269.42,61.28 269.68,60.78 269.94,60.32 270.2,59.9 270.47,59.52 270.74,59.14 271.03,58.78 271.32,58.43 271.63,58.09 271.94,57.76 272.26,57.45 272.59,57.15 272.93,56.86 273.28,56.59 273.63,56.34 274,56.1 274.38,55.88 274.78,55.68 275.2,55.49 275.63,55.33 276.06,55.17 276.51,55.03 276.95,54.9 277.4,54.79 277.84,54.68 278.27,54.58 278.69,54.49 279.1,54.4 279.5,54.32 279.88,54.26 280.27,54.2 280.64,54.16 281.02,54.13 281.39,54.1 281.76,54.08 282.12,54.07 282.49,54.07 282.86,54.08 283.23,54.09 283.6,54.1 283.98,54.12 284.36,54.16 284.74,54.2 285.13,54.25 285.51,54.31 285.89,54.37 286.27,54.44 286.65,54.51 287.02,54.58 287.39,54.65 287.75,54.73 288.1,54.8 288.44,54.88 288.78,54.96 289.11,55.05 289.44,55.14 289.76,55.23 290.08,55.32 290.39,55.42 290.7,55.51 291.01,55.59 291.31,55.67 291.61,55.74 291.9,55.8 292.19,55.85 292.47,55.91 292.76,55.96 293.03,56.01 293.31,56.06 293.57,56.09 293.84,56.12 294.1,56.14 294.36,56.15 294.61,56.15 294.86,56.13 295.1,56.1 295.34,56.05 295.57,56 295.79,55.93 296.01,55.86 296.23,55.77 296.44,55.67 296.65,55.56 296.86,55.43 297.07,55.3 297.28,55.15 297.49,54.98 297.7,54.8 297.91,54.6 298.12,54.38 298.33,54.13 298.54,53.87 298.74,53.6 298.95,53.32 299.16,53.03 299.36,52.74 299.57,52.44 299.78,52.16 299.99,51.87 300.2,51.6 300.42,51.33 300.64,51.06 300.86,50.78 301.09,50.51 301.31,50.23 301.54,49.96 301.76,49.68 301.98,49.41 302.2,49.15 302.41,48.89 302.61,48.64 302.8,48.4 302.99,48.16 303.18,47.91 303.37,47.67 303.56,47.42 303.74,47.18 303.91,46.95 304.08,46.73 304.23,46.52 304.38,46.33 304.5,46.16 304.61,46.02 304.7,45.9"/>
<circle cx="304.1" cy="46.1" r="0.6" fill="#333333"/>
<circle cx="306.2" cy="43" r="0.6" fill="#333333"/>
<circle cx="308" cy="39.8" r="0.6" fill="#333333"/>
<circle cx="310.8" cy="36.7" r="0.6" fill="#333333"/>
<circle cx="313.2" cy="32.5" r="0.6" fill="#333333"/>
<circle cx="315.8" cy="29.3" r="0.6" fill="#333333"/>
<circle cx="318.2" cy="26.3" r="0.6" fill="#333333"/>
<circle cx="320.6" cy="23.2" r="0.6" fill="#333333"/>
<circle cx="280.2" cy="82.6" r="0.95" fill="#ee1c1c"/>
<circle cx="280.7" cy="77.7" r="0.95" fill="#ee1c1c"/>
<circle cx="281.4" cy="73.8" r="0.95" fill="#ee1c1c"/>
<circle cx="281.9" cy="70.7" r="0.95" fill="#ee1c1c"/>
<circle cx="282.3" cy="67.9" r="0.95" fill="#ee1c1c"/>
<circle cx="283" cy="65.1" r="0.95" fill="#ee1c1c"/>
<circle cx="283.97" cy="63.02" r="0.95" fill="#ee1c1c"/>
<circle cx="284.9" cy="61.2" r="0.95" fill="#ee1c1c"/>
<circle cx="286.07" cy="59.16" r="0.95" fill="#ee1c1c"/>
<circle cx="287.4" cy="57.3" r="0.95" fill="#ee1c1c"/>
<circle cx="289.14" cy="55.78" r="0.95" fill="#ee1c1c"/>
<circle cx="290.93" cy="54.59" r="0.95" fill="#ee1c1c"/>
<circle cx="292.77" cy="53.5" r="0.95" fill="#ee1c1c"/>
<circle cx="294.72" cy="52.41" r="0.95" fill="#ee1c1c"/>
<circle cx="296.63" cy="51.34" r="0.95" fill="#ee1c1c"/>
<circle cx="298.52" cy="50.29" r="0.95" fill="#ee1c1c"/>
<circle cx="300.32" cy="49.3" r="0.95" fill="#ee1c1c"/>
<circle cx="302.12" cy="48.31" r="0.95" fill="#ee1c1c"/>
<circle cx="305.5" cy="47.3" r="0.95" fill="#ee1c1c"/>
<circle cx="308.3" cy="45.7" r="0.95" fill="#ee1c1c"/>
<circle cx="311.33" cy="45.22" r="0.95" fill="#ee1c1c"/>
<circle cx="314.44" cy="45.19" r="0.95" fill="#ee1c1c"/>
<circle cx="317.7" cy="45.46" r="0.95" fill="#ee1c1c"/>
<circle cx="320.98" cy="46.1" r="0.95" fill="#ee1c1c"/>
<circle cx="323.97" cy="46.68" r="0.95" fill="#ee1c1c"/>
<circle cx="327.07" cy="47.14" r="0.95" fill="#ee1c1c"/>
<circle cx="330.4" cy="47.3" r="0.95" fill="#ee1c1c"/>
<circle cx="333.5" cy="46.58" r="0.95" fill="#ee1c1c"/>
<circle cx="336.36" cy="45.3" r="0.95" fill="#ee1c1c"/>
<circle cx="339" cy="43.5" r="0.95" fill="#ee1c1c"/>
<circle cx="341.45" cy="41.44" r="0.95" fill="#ee1c1c"/>
<circle cx="343.4" cy="39.7" r="0.95" fill="#ee1c1c"/>
<circle cx="346.35" cy="35.96" r="0.95" fill="#ee1c1c"/>
<circle cx="348.95" cy="32.64" r="0.95" fill="#ee1c1c"/>
<circle cx="351.61" cy="29.28" r="0.95" fill="#ee1c1c"/>
<circle cx="354.48" cy="25.89" r="0.95" fill="#ee1c1c"/>
<circle cx="357.42" cy="22.51" r="0.95" fill="#ee1c1c"/>
<circle cx="360.56" cy="18.84" r="0.95" fill="#ee1c1c"/>
<circle cx="297.1" cy="14.1" r="2" fill="#ee1c1c"/>
<text class="b" x="313.5" y="18" font-size="11.8" text-anchor="start" fill="#1a1a1a" textLength="39.7" lengthAdjust="spacingAndGlyphs" style="stroke-width:0.15px">0% SOC</text>
<line x1="240.5" y1="112" x2="240.5" y2="182.8" stroke="#c4c4c4" stroke-width="1.4"/>
<line x1="239.6" y1="182.5" x2="376.3" y2="182.5" stroke="#c4c4c4" stroke-width="1.4"/>
<line x1="240.1" y1="112.5" x2="241.6" y2="112.5" stroke="#666" stroke-width="0.6"/>
<text x="238.5" y="114.68" font-size="7" text-anchor="end" fill="#1a1a1a" textLength="15.75" lengthAdjust="spacingAndGlyphs">0.015</text>
<line x1="240.1" y1="130.5" x2="241.6" y2="130.5" stroke="#666" stroke-width="0.6"/>
<text x="238.5" y="132.38" font-size="7" text-anchor="end" fill="#1a1a1a" textLength="15.75" lengthAdjust="spacingAndGlyphs">0.010</text>
<line x1="240.1" y1="147.5" x2="241.6" y2="147.5" stroke="#666" stroke-width="0.6"/>
<text x="238.5" y="150.08" font-size="7" text-anchor="end" fill="#1a1a1a" textLength="15.75" lengthAdjust="spacingAndGlyphs">0.005</text>
<line x1="240.1" y1="165.5" x2="241.6" y2="165.5" stroke="#666" stroke-width="0.6"/>
<text x="238.5" y="167.88" font-size="7" text-anchor="end" fill="#1a1a1a" textLength="15.75" lengthAdjust="spacingAndGlyphs">0.000</text>
<line x1="240.1" y1="182.5" x2="241.6" y2="182.5" stroke="#666" stroke-width="0.6"/>
<text x="238.5" y="185.18" font-size="7" text-anchor="end" fill="#1a1a1a" textLength="21.55" lengthAdjust="spacingAndGlyphs">-0.005</text>
<line x1="240.5" y1="182.8" x2="240.5" y2="181.3" stroke="#666" stroke-width="0.6"/>
<text x="242.3" y="190.11" font-size="6.8" text-anchor="middle" fill="#1a1a1a" textLength="12.25" lengthAdjust="spacingAndGlyphs">0.20</text>
<line x1="267.5" y1="182.8" x2="267.5" y2="181.3" stroke="#666" stroke-width="0.6"/>
<text x="269.8" y="190.11" font-size="6.8" text-anchor="middle" fill="#1a1a1a" textLength="12.25" lengthAdjust="spacingAndGlyphs">0.21</text>
<line x1="295.5" y1="182.8" x2="295.5" y2="181.3" stroke="#666" stroke-width="0.6"/>
<text x="297.2" y="190.11" font-size="6.8" text-anchor="middle" fill="#1a1a1a" textLength="12.25" lengthAdjust="spacingAndGlyphs">0.22</text>
<line x1="322.5" y1="182.8" x2="322.5" y2="181.3" stroke="#666" stroke-width="0.6"/>
<text x="324.6" y="190.11" font-size="6.8" text-anchor="middle" fill="#1a1a1a" textLength="12.25" lengthAdjust="spacingAndGlyphs">0.23</text>
<line x1="349.5" y1="182.8" x2="349.5" y2="181.3" stroke="#666" stroke-width="0.6"/>
<text x="352" y="190.11" font-size="6.8" text-anchor="middle" fill="#1a1a1a" textLength="12.25" lengthAdjust="spacingAndGlyphs">0.24</text>
<line x1="376.5" y1="182.8" x2="376.5" y2="181.3" stroke="#666" stroke-width="0.6"/>
<text x="378.5" y="190.11" font-size="6.8" text-anchor="middle" fill="#1a1a1a" textLength="12.25" lengthAdjust="spacingAndGlyphs">0.25</text>
<line x1="240.6" y1="165.5" x2="376.3" y2="165.5" stroke="#8fe88a" stroke-width="1"/>
<text class="b" x="209.3" y="111.2" font-size="11.3" text-anchor="start" fill="#1a1a1a" textLength="9.8" lengthAdjust="spacingAndGlyphs">(f)</text>
<text x="249.5" y="119.5" font-size="7" text-anchor="start" fill="#1a1a1a" textLength="45" lengthAdjust="spacingAndGlyphs">LFP-100 cycles</text>
<text x="217.9" y="149.92" font-size="7.4" text-anchor="middle" fill="#1a1a1a" transform="rotate(-90 217.9 147.4)" textLength="36.5" lengthAdjust="spacingAndGlyphs">-Im(Z)/Ohm</text>
<text x="308.2" y="198" font-size="7.4" text-anchor="middle" fill="#1a1a1a" textLength="32.5" lengthAdjust="spacingAndGlyphs">Re(Z)/Ohm</text>
<circle cx="255.3" cy="177.6" r="0.6" fill="#333333"/>
<circle cx="256.2" cy="173.5" r="0.6" fill="#333333"/>
<circle cx="257" cy="170" r="0.6" fill="#333333"/>
<polyline fill="none" stroke="#444" stroke-width="1" stroke-linejoin="round" stroke-linecap="round" points="257.8,166.7 257.88,166.47 257.98,166.17 258.1,165.82 258.23,165.42 258.37,164.99 258.52,164.54 258.68,164.08 258.84,163.61 259.01,163.17 259.17,162.74 259.34,162.35 259.5,162 259.65,161.69 259.79,161.39 259.93,161.11 260.06,160.84 260.19,160.59 260.34,160.34 260.49,160.11 260.66,159.88 260.85,159.65 261.07,159.43 261.32,159.22 261.6,159 261.92,158.78 262.26,158.56 262.63,158.35 263.03,158.13 263.45,157.93 263.88,157.72 264.33,157.53 264.79,157.36 265.26,157.19 265.74,157.04 266.22,156.91 266.7,156.8 267.19,156.71 267.71,156.64 268.24,156.59 268.79,156.55 269.34,156.53 269.9,156.52 270.46,156.52 271.01,156.53 271.56,156.54 272.09,156.56 272.61,156.58 273.1,156.6 273.58,156.63 274.06,156.69 274.53,156.77 275,156.86 275.45,156.95 275.9,157.05 276.33,157.14 276.75,157.22 277.15,157.28 277.52,157.32 277.87,157.33 278.2,157.3 278.5,157.24 278.76,157.17 279.01,157.08 279.23,156.97 279.43,156.84 279.61,156.69 279.79,156.53 279.95,156.36 280.11,156.16 280.27,155.96 280.43,155.73 280.6,155.5 280.77,155.25 280.93,154.98 281.09,154.69 281.24,154.39 281.39,154.08 281.54,153.74 281.68,153.4 281.81,153.04 281.94,152.67 282.07,152.29 282.19,151.9 282.3,151.5 282.41,151.07 282.52,150.58 282.62,150.06 282.72,149.51 282.82,148.96 282.91,148.4 282.99,147.86 283.07,147.34 283.14,146.86 283.2,146.44 283.25,146.08 283.3,145.8"/>
<circle cx="283.3" cy="145.8" r="0.6" fill="#333333"/>
<circle cx="284.19" cy="142.14" r="0.6" fill="#333333"/>
<circle cx="284.92" cy="139.19" r="0.6" fill="#333333"/>
<circle cx="285.8" cy="135.6" r="0.6" fill="#333333"/>
<circle cx="286.63" cy="132.19" r="0.6" fill="#333333"/>
<circle cx="287.39" cy="129.17" r="0.6" fill="#333333"/>
<circle cx="288.2" cy="126.25" r="0.6" fill="#333333"/>
<circle cx="289.21" cy="122.96" r="0.6" fill="#333333"/>
<circle cx="290.01" cy="119.8" r="0.6" fill="#333333"/>
<circle cx="280.9" cy="182.5" r="0.95" fill="#ee1c1c"/>
<circle cx="281.6" cy="177.6" r="0.95" fill="#ee1c1c"/>
<circle cx="282" cy="173.8" r="0.95" fill="#ee1c1c"/>
<circle cx="282.6" cy="170" r="0.95" fill="#ee1c1c"/>
<circle cx="282.98" cy="167.73" r="0.95" fill="#ee1c1c"/>
<circle cx="283.77" cy="165.53" r="0.95" fill="#ee1c1c"/>
<circle cx="284.8" cy="163.31" r="0.95" fill="#ee1c1c"/>
<circle cx="286.06" cy="161.21" r="0.95" fill="#ee1c1c"/>
<circle cx="287.46" cy="159.38" r="0.95" fill="#ee1c1c"/>
<circle cx="289.19" cy="157.64" r="0.95" fill="#ee1c1c"/>
<circle cx="290.96" cy="156.25" r="0.95" fill="#ee1c1c"/>
<circle cx="293.02" cy="154.85" r="0.95" fill="#ee1c1c"/>
<circle cx="295.37" cy="153.65" r="0.95" fill="#ee1c1c"/>
<circle cx="297.34" cy="152.96" r="0.95" fill="#ee1c1c"/>
<circle cx="299.53" cy="152.42" r="0.95" fill="#ee1c1c"/>
<circle cx="301.84" cy="152.02" r="0.95" fill="#ee1c1c"/>
<circle cx="304.15" cy="151.76" r="0.95" fill="#ee1c1c"/>
<circle cx="306.43" cy="151.66" r="0.95" fill="#ee1c1c"/>
<circle cx="308.8" cy="151.75" r="0.95" fill="#ee1c1c"/>
<circle cx="311.11" cy="151.95" r="0.95" fill="#ee1c1c"/>
<circle cx="313.19" cy="152.15" r="0.95" fill="#ee1c1c"/>
<circle cx="315.34" cy="152.39" r="0.95" fill="#ee1c1c"/>
<circle cx="317.34" cy="152.74" r="0.95" fill="#ee1c1c"/>
<circle cx="319.34" cy="152.6" r="0.95" fill="#ee1c1c"/>
<circle cx="321.28" cy="151.82" r="0.95" fill="#ee1c1c"/>
<circle cx="323.08" cy="150.88" r="0.95" fill="#ee1c1c"/>
<circle cx="324" cy="150.4" r="0.95" fill="#ee1c1c"/>
<circle cx="326.63" cy="148.16" r="0.95" fill="#ee1c1c"/>
<circle cx="329.1" cy="145.8" r="0.95" fill="#ee1c1c"/>
<circle cx="331.7" cy="142.85" r="0.95" fill="#ee1c1c"/>
<circle cx="333.88" cy="140.18" r="0.95" fill="#ee1c1c"/>
<circle cx="335.87" cy="137.56" r="0.95" fill="#ee1c1c"/>
<circle cx="337.72" cy="134.91" r="0.95" fill="#ee1c1c"/>
<circle cx="339.79" cy="131.69" r="0.95" fill="#ee1c1c"/>
<circle cx="341.42" cy="128.89" r="0.95" fill="#ee1c1c"/>
<circle cx="342.86" cy="125.97" r="0.95" fill="#ee1c1c"/>
<circle cx="344.14" cy="122.82" r="0.95" fill="#ee1c1c"/>
<circle cx="345.24" cy="119.42" r="0.95" fill="#ee1c1c"/>
<line x1="240.5" y1="206" x2="240.5" y2="277.6" stroke="#c4c4c4" stroke-width="1.4"/>
<line x1="239.6" y1="277.5" x2="377" y2="277.5" stroke="#c4c4c4" stroke-width="1.4"/>
<line x1="240.1" y1="206.5" x2="241.6" y2="206.5" stroke="#666" stroke-width="0.6"/>
<text x="238.5" y="208.88" font-size="7" text-anchor="end" fill="#1a1a1a" textLength="15.75" lengthAdjust="spacingAndGlyphs">0.010</text>
<line x1="240.1" y1="230.5" x2="241.6" y2="230.5" stroke="#666" stroke-width="0.6"/>
<text x="238.5" y="232.68" font-size="7" text-anchor="end" fill="#1a1a1a" textLength="15.75" lengthAdjust="spacingAndGlyphs">0.005</text>
<line x1="240.1" y1="254.5" x2="241.6" y2="254.5" stroke="#666" stroke-width="0.6"/>
<text x="238.5" y="256.38" font-size="7" text-anchor="end" fill="#1a1a1a" textLength="15.75" lengthAdjust="spacingAndGlyphs">0.000</text>
<line x1="240.1" y1="277.5" x2="241.6" y2="277.5" stroke="#666" stroke-width="0.6"/>
<text x="238.5" y="279.98" font-size="7" text-anchor="end" fill="#1a1a1a" textLength="21.55" lengthAdjust="spacingAndGlyphs">-0.005</text>
<line x1="240.5" y1="277.6" x2="240.5" y2="276.1" stroke="#666" stroke-width="0.6"/>
<text x="242.1" y="284.91" font-size="6.8" text-anchor="middle" fill="#1a1a1a" textLength="12.25" lengthAdjust="spacingAndGlyphs">0.38</text>
<line x1="274.5" y1="277.6" x2="274.5" y2="276.1" stroke="#666" stroke-width="0.6"/>
<text x="276.6" y="284.91" font-size="6.8" text-anchor="middle" fill="#1a1a1a" textLength="12.25" lengthAdjust="spacingAndGlyphs">0.39</text>
<line x1="308.5" y1="277.6" x2="308.5" y2="276.1" stroke="#666" stroke-width="0.6"/>
<text x="310.8" y="284.91" font-size="6.8" text-anchor="middle" fill="#1a1a1a" textLength="12.25" lengthAdjust="spacingAndGlyphs">0.40</text>
<line x1="342.5" y1="277.6" x2="342.5" y2="276.1" stroke="#666" stroke-width="0.6"/>
<text x="344.9" y="284.91" font-size="6.8" text-anchor="middle" fill="#1a1a1a" textLength="12.25" lengthAdjust="spacingAndGlyphs">0.41</text>
<line x1="377.5" y1="277.6" x2="377.5" y2="276.1" stroke="#666" stroke-width="0.6"/>
<text x="379" y="284.91" font-size="6.8" text-anchor="middle" fill="#1a1a1a" textLength="12.25" lengthAdjust="spacingAndGlyphs">0.42</text>
<line x1="240.6" y1="254.5" x2="377" y2="254.5" stroke="#8fe88a" stroke-width="1"/>
<text class="b" x="209.3" y="217" font-size="11.3" text-anchor="start" fill="#1a1a1a" textLength="12.5" lengthAdjust="spacingAndGlyphs">(g)</text>
<text x="250.2" y="214.5" font-size="7" text-anchor="start" fill="#1a1a1a" textLength="44.3" lengthAdjust="spacingAndGlyphs">LFP-400 cycles</text>
<text x="217.9" y="244.32" font-size="7.4" text-anchor="middle" fill="#1a1a1a" transform="rotate(-90 217.9 241.8)" textLength="36.5" lengthAdjust="spacingAndGlyphs">-Im(Z)/Ohm</text>
<text x="307.6" y="292.8" font-size="7.4" text-anchor="middle" fill="#1a1a1a" textLength="32.5" lengthAdjust="spacingAndGlyphs">Re(Z)/Ohm</text>
<circle cx="266.7" cy="277.4" r="0.95" fill="#ee1c1c"/>
<circle cx="267.6" cy="270.2" r="0.95" fill="#ee1c1c"/>
<circle cx="267.2" cy="265.7" r="0.95" fill="#ee1c1c"/>
<circle cx="268.6" cy="261" r="0.95" fill="#ee1c1c"/>
<circle cx="269.3" cy="257.5" r="0.95" fill="#ee1c1c"/>
<circle cx="270" cy="254" r="0.95" fill="#ee1c1c"/>
<circle cx="271.4" cy="248.7" r="0.95" fill="#ee1c1c"/>
<circle cx="273.5" cy="246.3" r="0.95" fill="#ee1c1c"/>
<circle cx="275.72" cy="244.6" r="0.95" fill="#ee1c1c"/>
<circle cx="278.06" cy="243.11" r="0.95" fill="#ee1c1c"/>
<circle cx="280.5" cy="241.7" r="0.95" fill="#ee1c1c"/>
<circle cx="282.93" cy="240.52" r="0.95" fill="#ee1c1c"/>
<circle cx="285.53" cy="239.03" r="0.95" fill="#ee1c1c"/>
<circle cx="288" cy="237.8" r="0.95" fill="#ee1c1c"/>
<circle cx="290.83" cy="236.61" r="0.95" fill="#ee1c1c"/>
<circle cx="293.56" cy="235.96" r="0.95" fill="#ee1c1c"/>
<circle cx="296.46" cy="235.93" r="0.95" fill="#ee1c1c"/>
<circle cx="299.94" cy="236.29" r="0.95" fill="#ee1c1c"/>
<circle cx="303.21" cy="236.72" r="0.95" fill="#ee1c1c"/>
<circle cx="306.25" cy="237.17" r="0.95" fill="#ee1c1c"/>
<circle cx="309.1" cy="237.61" r="0.95" fill="#ee1c1c"/>
<circle cx="311.87" cy="237.16" r="0.95" fill="#ee1c1c"/>
<circle cx="314.57" cy="235.99" r="0.95" fill="#ee1c1c"/>
<circle cx="314.8" cy="235.9" r="0.95" fill="#ee1c1c"/>
<circle cx="318.65" cy="232.41" r="0.95" fill="#ee1c1c"/>
<circle cx="321.92" cy="229.33" r="0.95" fill="#ee1c1c"/>
<circle cx="325.48" cy="225.81" r="0.95" fill="#ee1c1c"/>
<circle cx="328.64" cy="221.82" r="0.95" fill="#ee1c1c"/>
<circle cx="331.04" cy="218.11" r="0.95" fill="#ee1c1c"/>
<circle cx="333.66" cy="214.52" r="0.95" fill="#ee1c1c"/>
<circle cx="336.6" cy="210.68" r="0.95" fill="#ee1c1c"/>
<circle cx="321.4" cy="269.1" r="0.55" fill="#333333"/>
<circle cx="321.9" cy="266.35" r="0.55" fill="#333333"/>
<circle cx="322.42" cy="263.48" r="0.55" fill="#333333"/>
<circle cx="322.8" cy="260.97" r="0.55" fill="#333333"/>
<circle cx="323.3" cy="258.2" r="0.55" fill="#333333"/>
<circle cx="324.11" cy="255.31" r="0.55" fill="#333333"/>
<circle cx="325" cy="252.65" r="0.55" fill="#333333"/>
<circle cx="325.94" cy="250.19" r="0.55" fill="#333333"/>
<circle cx="327.11" cy="247.38" r="0.55" fill="#333333"/>
<circle cx="328.2" cy="244.8" r="0.55" fill="#333333"/>
<circle cx="328.2" cy="244.8" r="0.6" fill="#333333"/>
<circle cx="330.15" cy="244.42" r="0.6" fill="#333333"/>
<circle cx="332.38" cy="243.98" r="0.6" fill="#333333"/>
<circle cx="334.2" cy="243.6" r="0.6" fill="#333333"/>
<circle cx="336.12" cy="243.13" r="0.6" fill="#333333"/>
<circle cx="338.22" cy="242.57" r="0.6" fill="#333333"/>
<circle cx="340.43" cy="242.06" r="0.6" fill="#333333"/>
<circle cx="342.7" cy="241.7" r="0.6" fill="#333333"/>
<circle cx="345.23" cy="241.63" r="0.6" fill="#333333"/>
<circle cx="347.07" cy="241.7" r="0.6" fill="#333333"/>
<circle cx="348.87" cy="241.8" r="0.6" fill="#333333"/>
<circle cx="351.24" cy="241.83" r="0.6" fill="#333333"/>
<circle cx="353.15" cy="241.37" r="0.6" fill="#333333"/>
<circle cx="353.9" cy="239.55" r="0.6" fill="#333333"/>
<circle cx="354" cy="239" r="0.6" fill="#333333"/>
<circle cx="354.96" cy="235.21" r="0.6" fill="#333333"/>
<circle cx="355.92" cy="231.34" r="0.6" fill="#333333"/>
<circle cx="356.94" cy="227.11" r="0.6" fill="#333333"/>
<circle cx="358.1" cy="222.79" r="0.6" fill="#333333"/>
<circle cx="359.47" cy="218.74" r="0.6" fill="#333333"/>
<circle cx="361.09" cy="214.61" r="0.6" fill="#333333"/>
<circle cx="362.6" cy="210.9" r="0.6" fill="#333333"/>
<line x1="240.5" y1="299.5" x2="240.5" y2="371.2" stroke="#c4c4c4" stroke-width="1.4"/>
<line x1="239.6" y1="371.5" x2="376" y2="371.5" stroke="#c4c4c4" stroke-width="1.4"/>
<line x1="240.1" y1="299.5" x2="241.6" y2="299.5" stroke="#666" stroke-width="0.6"/>
<text x="238.5" y="302.28" font-size="7" text-anchor="end" fill="#1a1a1a" textLength="15.75" lengthAdjust="spacingAndGlyphs">0.010</text>
<line x1="240.1" y1="323.5" x2="241.6" y2="323.5" stroke="#666" stroke-width="0.6"/>
<text x="238.5" y="326.28" font-size="7" text-anchor="end" fill="#1a1a1a" textLength="15.75" lengthAdjust="spacingAndGlyphs">0.005</text>
<line x1="240.1" y1="347.5" x2="241.6" y2="347.5" stroke="#666" stroke-width="0.6"/>
<text x="238.5" y="350.18" font-size="7" text-anchor="end" fill="#1a1a1a" textLength="15.75" lengthAdjust="spacingAndGlyphs">0.000</text>
<line x1="240.1" y1="371.5" x2="241.6" y2="371.5" stroke="#666" stroke-width="0.6"/>
<text x="238.5" y="373.58" font-size="7" text-anchor="end" fill="#1a1a1a" textLength="21.55" lengthAdjust="spacingAndGlyphs">-0.005</text>
<line x1="240.5" y1="371.2" x2="240.5" y2="369.7" stroke="#666" stroke-width="0.6"/>
<text x="241.1" y="378.51" font-size="6.8" text-anchor="middle" fill="#1a1a1a" textLength="12.25" lengthAdjust="spacingAndGlyphs">0.20</text>
<line x1="270.5" y1="371.2" x2="270.5" y2="369.7" stroke="#666" stroke-width="0.6"/>
<text x="271.4" y="378.51" font-size="6.8" text-anchor="middle" fill="#1a1a1a" textLength="12.25" lengthAdjust="spacingAndGlyphs">0.21</text>
<line x1="300.5" y1="371.2" x2="300.5" y2="369.7" stroke="#666" stroke-width="0.6"/>
<text x="301.7" y="378.51" font-size="6.8" text-anchor="middle" fill="#1a1a1a" textLength="12.25" lengthAdjust="spacingAndGlyphs">0.22</text>
<line x1="331.5" y1="371.2" x2="331.5" y2="369.7" stroke="#666" stroke-width="0.6"/>
<text x="332" y="378.51" font-size="6.8" text-anchor="middle" fill="#1a1a1a" textLength="12.25" lengthAdjust="spacingAndGlyphs">0.23</text>
<line x1="361.5" y1="371.2" x2="361.5" y2="369.7" stroke="#666" stroke-width="0.6"/>
<text x="362.3" y="378.51" font-size="6.8" text-anchor="middle" fill="#1a1a1a" textLength="12.25" lengthAdjust="spacingAndGlyphs">0.24</text>
<line x1="240.6" y1="347.8" x2="376" y2="347.8" stroke="#c4f2bc" stroke-width="1.8"/>
<text class="b" x="209.3" y="309.6" font-size="11.3" text-anchor="start" fill="#1a1a1a" textLength="12.5" lengthAdjust="spacingAndGlyphs">(h)</text>
<text x="250" y="309.5" font-size="7" text-anchor="start" fill="#1a1a1a" textLength="45" lengthAdjust="spacingAndGlyphs">LFP-800 cycles</text>
<text x="217.9" y="337.87" font-size="7.4" text-anchor="middle" fill="#1a1a1a" transform="rotate(-90 217.9 335.35)" textLength="36.5" lengthAdjust="spacingAndGlyphs">-Im(Z)/Ohm</text>
<text x="308.2" y="386.4" font-size="7.4" text-anchor="middle" fill="#1a1a1a" textLength="32.5" lengthAdjust="spacingAndGlyphs">Re(Z)/Ohm</text>
<circle cx="277.5" cy="366.1" r="0.95" fill="#ee1c1c"/>
<circle cx="278.8" cy="359.8" r="0.95" fill="#ee1c1c"/>
<circle cx="279.6" cy="355.6" r="0.95" fill="#ee1c1c"/>
<circle cx="280.2" cy="352" r="0.95" fill="#ee1c1c"/>
<circle cx="281.4" cy="347.1" r="0.95" fill="#ee1c1c"/>
<circle cx="281.4" cy="347.1" r="0.95" fill="#ee1c1c"/>
<circle cx="282.74" cy="344.52" r="0.95" fill="#ee1c1c"/>
<circle cx="284.36" cy="341.71" r="0.95" fill="#ee1c1c"/>
<circle cx="286.1" cy="339.23" r="0.95" fill="#ee1c1c"/>
<circle cx="288.13" cy="336.77" r="0.95" fill="#ee1c1c"/>
<circle cx="290.7" cy="334.27" r="0.95" fill="#ee1c1c"/>
<circle cx="293.12" cy="332.11" r="0.95" fill="#ee1c1c"/>
<circle cx="295.92" cy="330.16" r="0.95" fill="#ee1c1c"/>
<circle cx="299.26" cy="328.82" r="0.95" fill="#ee1c1c"/>
<circle cx="302.24" cy="328.19" r="0.95" fill="#ee1c1c"/>
<circle cx="305.37" cy="327.77" r="0.95" fill="#ee1c1c"/>
<circle cx="308.37" cy="327.48" r="0.95" fill="#ee1c1c"/>
<circle cx="311.89" cy="327.34" r="0.95" fill="#ee1c1c"/>
<circle cx="315.12" cy="327.53" r="0.95" fill="#ee1c1c"/>
<circle cx="318.29" cy="327.51" r="0.95" fill="#ee1c1c"/>
<circle cx="321.59" cy="326.88" r="0.95" fill="#ee1c1c"/>
<circle cx="324.95" cy="325.87" r="0.95" fill="#ee1c1c"/>
<circle cx="328.15" cy="324.5" r="0.95" fill="#ee1c1c"/>
<circle cx="331.19" cy="322.55" r="0.95" fill="#ee1c1c"/>
<circle cx="333.46" cy="320.64" r="0.95" fill="#ee1c1c"/>
<circle cx="335.96" cy="318.34" r="0.95" fill="#ee1c1c"/>
<circle cx="336.8" cy="317.6" r="0.95" fill="#ee1c1c"/>
<circle cx="339.52" cy="314.3" r="0.95" fill="#ee1c1c"/>
<circle cx="341.85" cy="310.96" r="0.95" fill="#ee1c1c"/>
<circle cx="343.99" cy="307.26" r="0.95" fill="#ee1c1c"/>
<circle cx="345.97" cy="303.37" r="0.95" fill="#ee1c1c"/>
<circle cx="306.3" cy="365.7" r="0.6" fill="#333333"/>
<circle cx="307.05" cy="362.21" r="0.6" fill="#333333"/>
<circle cx="307.71" cy="358.9" r="0.6" fill="#333333"/>
<circle cx="308.35" cy="355.3" r="0.6" fill="#333333"/>
<circle cx="309.06" cy="351.88" r="0.6" fill="#333333"/>
<circle cx="309.9" cy="348.59" r="0.6" fill="#333333"/>
<circle cx="310.3" cy="347.1" r="0.6" fill="#333333"/>
<circle cx="310.93" cy="345.61" r="0.6" fill="#333333"/>
<circle cx="311.82" cy="343.46" r="0.6" fill="#333333"/>
<circle cx="312.53" cy="341.9" r="0.6" fill="#333333"/>
<circle cx="313.33" cy="340.43" r="0.6" fill="#333333"/>
<circle cx="314.67" cy="338.67" r="0.6" fill="#333333"/>
<circle cx="316.24" cy="337.2" r="0.6" fill="#333333"/>
<circle cx="318.01" cy="335.91" r="0.6" fill="#333333"/>
<circle cx="319.86" cy="334.86" r="0.6" fill="#333333"/>
<circle cx="321.72" cy="334.07" r="0.6" fill="#333333"/>
<circle cx="323.67" cy="333.57" r="0.6" fill="#333333"/>
<circle cx="325.67" cy="333.31" r="0.6" fill="#333333"/>
<circle cx="327.64" cy="333.25" r="0.6" fill="#333333"/>
<circle cx="329.52" cy="333.38" r="0.6" fill="#333333"/>
<circle cx="331.41" cy="333.97" r="0.6" fill="#333333"/>
<circle cx="333.25" cy="334.74" r="0.6" fill="#333333"/>
<circle cx="334.89" cy="335.28" r="0.6" fill="#333333"/>
<circle cx="336.53" cy="335.04" r="0.6" fill="#333333"/>
<circle cx="337.75" cy="333.61" r="0.6" fill="#333333"/>
<circle cx="338.57" cy="331.82" r="0.6" fill="#333333"/>
<circle cx="339.32" cy="330.01" r="0.6" fill="#333333"/>
<circle cx="339.88" cy="328.4" r="0.6" fill="#333333"/>
<circle cx="340.44" cy="326.65" r="0.6" fill="#333333"/>
<circle cx="340.95" cy="324.96" r="0.6" fill="#333333"/>
<circle cx="341.56" cy="322.94" r="0.6" fill="#333333"/>
<circle cx="341.7" cy="322.5" r="0.6" fill="#333333"/>
<circle cx="342.77" cy="319.36" r="0.6" fill="#333333"/>
<circle cx="343.93" cy="315.97" r="0.6" fill="#333333"/>
<circle cx="344.92" cy="313.06" r="0.6" fill="#333333"/>
<circle cx="345.94" cy="310.11" r="0.6" fill="#333333"/>
<circle cx="347" cy="306.8" r="0.6" fill="#333333"/>
<circle cx="347.8" cy="303.69" r="0.6" fill="#333333"/>
<circle cx="348.52" cy="300.52" r="0.6" fill="#333333"/>
<line x1="406.5" y1="11.2" x2="406.5" y2="82.8" stroke="#c4c4c4" stroke-width="1.4"/>
<line x1="405.6" y1="82.5" x2="541.3" y2="82.5" stroke="#c4c4c4" stroke-width="1.4"/>
<line x1="406.1" y1="11.5" x2="407.6" y2="11.5" stroke="#666" stroke-width="0.6"/>
<text x="404.5" y="14.08" font-size="7" text-anchor="end" fill="#1a1a1a" textLength="12.25" lengthAdjust="spacingAndGlyphs">0.20</text>
<line x1="406.1" y1="25.5" x2="407.6" y2="25.5" stroke="#666" stroke-width="0.6"/>
<text x="404.5" y="27.68" font-size="7" text-anchor="end" fill="#1a1a1a" textLength="12.25" lengthAdjust="spacingAndGlyphs">0.16</text>
<line x1="406.1" y1="38.5" x2="407.6" y2="38.5" stroke="#666" stroke-width="0.6"/>
<text x="404.5" y="41.28" font-size="7" text-anchor="end" fill="#1a1a1a" textLength="12.25" lengthAdjust="spacingAndGlyphs">0.12</text>
<line x1="406.1" y1="52.5" x2="407.6" y2="52.5" stroke="#666" stroke-width="0.6"/>
<text x="404.5" y="54.78" font-size="7" text-anchor="end" fill="#1a1a1a" textLength="12.25" lengthAdjust="spacingAndGlyphs">0.08</text>
<line x1="406.1" y1="66.5" x2="407.6" y2="66.5" stroke="#666" stroke-width="0.6"/>
<text x="404.5" y="68.38" font-size="7" text-anchor="end" fill="#1a1a1a" textLength="12.25" lengthAdjust="spacingAndGlyphs">0.04</text>
<line x1="406.1" y1="79.5" x2="407.6" y2="79.5" stroke="#666" stroke-width="0.6"/>
<text x="404.5" y="81.98" font-size="7" text-anchor="end" fill="#1a1a1a" textLength="12.25" lengthAdjust="spacingAndGlyphs">0.00</text>
<line x1="406.5" y1="82.8" x2="406.5" y2="81.3" stroke="#666" stroke-width="0.6"/>
<text x="406.6" y="90.11" font-size="6.8" text-anchor="middle" fill="#1a1a1a" textLength="8.75" lengthAdjust="spacingAndGlyphs">0.6</text>
<line x1="433.5" y1="82.8" x2="433.5" y2="81.3" stroke="#666" stroke-width="0.6"/>
<text x="433.9" y="90.11" font-size="6.8" text-anchor="middle" fill="#1a1a1a" textLength="8.75" lengthAdjust="spacingAndGlyphs">0.7</text>
<line x1="460.5" y1="82.8" x2="460.5" y2="81.3" stroke="#666" stroke-width="0.6"/>
<text x="461.2" y="90.11" font-size="6.8" text-anchor="middle" fill="#1a1a1a" textLength="8.75" lengthAdjust="spacingAndGlyphs">0.8</text>
<line x1="488.5" y1="82.8" x2="488.5" y2="81.3" stroke="#666" stroke-width="0.6"/>
<text x="488.5" y="90.11" font-size="6.8" text-anchor="middle" fill="#1a1a1a" textLength="8.75" lengthAdjust="spacingAndGlyphs">0.9</text>
<line x1="515.5" y1="82.8" x2="515.5" y2="81.3" stroke="#666" stroke-width="0.6"/>
<text x="515.8" y="90.11" font-size="6.8" text-anchor="middle" fill="#1a1a1a" textLength="8.75" lengthAdjust="spacingAndGlyphs">1.0</text>
<line x1="541.5" y1="82.8" x2="541.5" y2="81.3" stroke="#666" stroke-width="0.6"/>
<text x="541.8" y="90.11" font-size="6.8" text-anchor="middle" fill="#1a1a1a" textLength="8.75" lengthAdjust="spacingAndGlyphs">1.1</text>
<line x1="406.6" y1="79.8" x2="541.3" y2="79.8" stroke="#c4f2bc" stroke-width="1.8"/>
<text class="b" x="377.5" y="13.6" font-size="11.3" text-anchor="start" fill="#1a1a1a" textLength="10.5" lengthAdjust="spacingAndGlyphs">(i)</text>
<text x="416.6" y="17.6" font-size="7" text-anchor="start" fill="#1a1a1a" textLength="41.9" lengthAdjust="spacingAndGlyphs">NCM-1 cycles</text>
<text x="386.3" y="49.52" font-size="7.4" text-anchor="middle" fill="#1a1a1a" transform="rotate(-90 386.3 47)" textLength="36.5" lengthAdjust="spacingAndGlyphs">-Im(Z)/Ohm</text>
<text x="477.9" y="98.9" font-size="7.4" text-anchor="middle" fill="#1a1a1a" textLength="32.5" lengthAdjust="spacingAndGlyphs">Re(Z)/Ohm</text>
<polyline fill="none" stroke="#ee1c1c" stroke-width="1.9" stroke-linejoin="round" stroke-linecap="round" points="421.75,83 421.78,82.83 421.82,82.61 421.86,82.35 421.91,82.06 421.96,81.75 422.02,81.42 422.08,81.08 422.15,80.74 422.22,80.4 422.31,80.08 422.4,79.77 422.5,79.5 422.61,79.25 422.71,79 422.83,78.76 422.94,78.52 423.07,78.3 423.2,78.07 423.34,77.85 423.5,77.64 423.66,77.42 423.84,77.21 424.04,77.01 424.25,76.8 424.48,76.59 424.74,76.39 425.01,76.18 425.3,75.98 425.6,75.77 425.91,75.58 426.23,75.39 426.55,75.2 426.87,75.02 427.18,74.86 427.5,74.7 427.8,74.55 428.1,74.42 428.4,74.29 428.7,74.18 429,74.08 429.3,73.99 429.6,73.9 429.9,73.82 430.2,73.74 430.5,73.66 430.8,73.58 431.1,73.49 431.4,73.4 431.71,73.31 432.02,73.22 432.34,73.14 432.67,73.06 432.99,72.97 433.32,72.89 433.63,72.81 433.94,72.72 434.23,72.62 434.51,72.52 434.76,72.42 435,72.3 435.21,72.18 435.4,72.05 435.58,71.92 435.74,71.78 435.88,71.64 436.02,71.49 436.14,71.34 436.26,71.19 436.38,71.02 436.5,70.85 436.62,70.68 436.75,70.5 436.88,70.31 437,70.11 437.13,69.9 437.25,69.68 437.36,69.46 437.48,69.23 437.59,69 437.7,68.77 437.8,68.55 437.91,68.33 438,68.11 438.1,67.9 438.19,67.69 438.29,67.47 438.38,67.25 438.47,67.03 438.55,66.8 438.63,66.59 438.71,66.38 438.78,66.19 438.85,66.01 438.91,65.85 438.96,65.71 439,65.6"/>
<circle cx="440.3" cy="62.9" r="1.05" fill="#ee1c1c"/>
<circle cx="441.9" cy="60.3" r="1.05" fill="#ee1c1c"/>
<circle cx="444.1" cy="56.7" r="1.05" fill="#ee1c1c"/>
<circle cx="446.5" cy="52.9" r="1.05" fill="#ee1c1c"/>
<circle cx="450.1" cy="49.1" r="1.05" fill="#ee1c1c"/>
<circle cx="454.6" cy="44.9" r="1.05" fill="#ee1c1c"/>
<circle cx="459.9" cy="40.9" r="1.05" fill="#ee1c1c"/>
<circle cx="465.5" cy="38.1" r="1.05" fill="#ee1c1c"/>
<circle cx="472.6" cy="36.5" r="1.05" fill="#ee1c1c"/>
<circle cx="479.7" cy="35.9" r="1.05" fill="#ee1c1c"/>
<circle cx="486.8" cy="36.4" r="1.05" fill="#ee1c1c"/>
<circle cx="493" cy="38.6" r="1.05" fill="#ee1c1c"/>
<circle cx="498.7" cy="41.8" r="1.05" fill="#ee1c1c"/>
<circle cx="503.6" cy="44.9" r="1.05" fill="#ee1c1c"/>
<circle cx="507.8" cy="48.2" r="1.05" fill="#ee1c1c"/>
<circle cx="511.5" cy="51.3" r="1.05" fill="#ee1c1c"/>
<circle cx="514.5" cy="54.5" r="1.05" fill="#ee1c1c"/>
<circle cx="517.3" cy="57.3" r="1.05" fill="#ee1c1c"/>
<circle cx="520" cy="59.1" r="1.05" fill="#ee1c1c"/>
<circle cx="522.7" cy="60.9" r="1.05" fill="#ee1c1c"/>
<circle cx="526.4" cy="59.6" r="1.05" fill="#ee1c1c"/>
<circle cx="530" cy="57.8" r="1.05" fill="#ee1c1c"/>
<circle cx="533.6" cy="56" r="1.05" fill="#ee1c1c"/>
<circle cx="537.3" cy="53.6" r="1.05" fill="#ee1c1c"/>
<circle cx="540.9" cy="50" r="1.05" fill="#ee1c1c"/>
<polyline fill="none" stroke="#222" stroke-width="1.2" stroke-linejoin="round" stroke-linecap="round" points="451.8,82.9 451.85,82.66 451.92,82.34 451.99,81.96 452.06,81.54 452.15,81.08 452.24,80.61 452.35,80.12 452.46,79.64 452.58,79.17 452.71,78.73 452.85,78.34 453,78 453.15,77.71 453.29,77.44 453.42,77.19 453.56,76.97 453.71,76.76 453.88,76.56 454.06,76.38 454.27,76.2 454.51,76.03 454.8,75.85 455.12,75.68 455.5,75.5 455.94,75.32 456.45,75.16 457.01,75 457.62,74.85 458.26,74.7 458.92,74.56 459.6,74.41 460.27,74.26 460.92,74.11 461.56,73.95 462.15,73.78 462.7,73.6 463.21,73.41 463.71,73.2 464.19,72.98 464.66,72.76 465.12,72.53 465.56,72.3 465.99,72.07 466.41,71.84 466.82,71.62 467.23,71.4 467.62,71.19 468,71 468.36,70.8 468.7,70.59 469.02,70.37 469.31,70.14 469.6,69.93 469.89,69.72 470.17,69.53 470.46,69.37 470.77,69.24 471.09,69.14 471.43,69.1 471.8,69.1 472.2,69.16 472.62,69.26 473.06,69.4 473.52,69.58 473.99,69.79 474.47,70.02 474.95,70.29 475.43,70.57 475.91,70.86 476.39,71.17 476.85,71.48 477.3,71.8 477.76,72.15 478.23,72.55 478.72,72.99 479.22,73.45 479.71,73.93 480.19,74.42 480.66,74.89 481.09,75.35 481.49,75.77 481.85,76.14 482.15,76.46 482.4,76.7"/>
<polyline fill="none" stroke="#333" stroke-width="0.6" stroke-linejoin="round" stroke-linecap="round" stroke-dasharray="1.2 0.9" points="482.4,76.7 482.69,76.21 483.05,75.59 483.47,74.86 483.95,74.05 484.46,73.17 485.01,72.23 485.59,71.26 486.17,70.27 486.77,69.28 487.36,68.31 487.94,67.38 488.5,66.5 489.07,65.62 489.7,64.69 490.35,63.73 491.03,62.75 491.71,61.77 492.38,60.81 493.03,59.89 493.65,59.01 494.22,58.21 494.73,57.5 495.16,56.89 495.5,56.4"/>
<line x1="470.9" y1="12.6" x2="474.9" y2="16.2" stroke="#222" stroke-width="1.2"/>
<line x1="470.9" y1="16.2" x2="474.9" y2="12.6" stroke="#222" stroke-width="1.2"/>
<text class="b" x="488.3" y="18.25" font-size="12" text-anchor="start" fill="#1a1a1a" textLength="49.4" lengthAdjust="spacingAndGlyphs" style="stroke-width:0.15px">100% SOC</text>
<line x1="406.5" y1="112" x2="406.5" y2="183.3" stroke="#c4c4c4" stroke-width="1.4"/>
<line x1="406" y1="183.5" x2="543" y2="183.5" stroke="#c4c4c4" stroke-width="1.4"/>
<line x1="406.5" y1="112.5" x2="408" y2="112.5" stroke="#666" stroke-width="0.6"/>
<text x="404.9" y="114.78" font-size="7" text-anchor="end" fill="#1a1a1a" textLength="12.25" lengthAdjust="spacingAndGlyphs">0.09</text>
<line x1="406.5" y1="133.5" x2="408" y2="133.5" stroke="#666" stroke-width="0.6"/>
<text x="404.9" y="136.08" font-size="7" text-anchor="end" fill="#1a1a1a" textLength="12.25" lengthAdjust="spacingAndGlyphs">0.06</text>
<line x1="406.5" y1="155.5" x2="408" y2="155.5" stroke="#666" stroke-width="0.6"/>
<text x="404.9" y="157.38" font-size="7" text-anchor="end" fill="#1a1a1a" textLength="12.25" lengthAdjust="spacingAndGlyphs">0.03</text>
<line x1="406.5" y1="176.5" x2="408" y2="176.5" stroke="#666" stroke-width="0.6"/>
<text x="404.9" y="178.68" font-size="7" text-anchor="end" fill="#1a1a1a" textLength="12.25" lengthAdjust="spacingAndGlyphs">0.00</text>
<line x1="424.5" y1="183.3" x2="424.5" y2="181.8" stroke="#666" stroke-width="0.6"/>
<text x="424.3" y="190.61" font-size="6.8" text-anchor="middle" fill="#1a1a1a" textLength="12.25" lengthAdjust="spacingAndGlyphs">0.20</text>
<line x1="453.5" y1="183.3" x2="453.5" y2="181.8" stroke="#666" stroke-width="0.6"/>
<text x="453.9" y="190.61" font-size="6.8" text-anchor="middle" fill="#1a1a1a" textLength="12.25" lengthAdjust="spacingAndGlyphs">0.25</text>
<line x1="483.5" y1="183.3" x2="483.5" y2="181.8" stroke="#666" stroke-width="0.6"/>
<text x="483.5" y="190.61" font-size="6.8" text-anchor="middle" fill="#1a1a1a" textLength="12.25" lengthAdjust="spacingAndGlyphs">0.30</text>
<line x1="513.5" y1="183.3" x2="513.5" y2="181.8" stroke="#666" stroke-width="0.6"/>
<text x="513" y="190.61" font-size="6.8" text-anchor="middle" fill="#1a1a1a" textLength="12.25" lengthAdjust="spacingAndGlyphs">0.35</text>
<line x1="542.5" y1="183.3" x2="542.5" y2="181.8" stroke="#666" stroke-width="0.6"/>
<text x="542.6" y="190.61" font-size="6.8" text-anchor="middle" fill="#1a1a1a" textLength="12.25" lengthAdjust="spacingAndGlyphs">0.40</text>
<line x1="407" y1="176.5" x2="543" y2="176.5" stroke="#8fe88a" stroke-width="1"/>
<text class="b" x="377.5" y="111.5" font-size="11.3" text-anchor="start" fill="#1a1a1a" textLength="10.2" lengthAdjust="spacingAndGlyphs">(j)</text>
<text x="417" y="118" font-size="7" text-anchor="start" fill="#1a1a1a" textLength="48" lengthAdjust="spacingAndGlyphs">NCM-100 cycles</text>
<text x="386.7" y="150.17" font-size="7.4" text-anchor="middle" fill="#1a1a1a" transform="rotate(-90 386.7 147.65)" textLength="36.5" lengthAdjust="spacingAndGlyphs">-Im(Z)/Ohm</text>
<text x="477.8" y="199.4" font-size="7.4" text-anchor="middle" fill="#1a1a1a" textLength="32.5" lengthAdjust="spacingAndGlyphs">Re(Z)/Ohm</text>
<polyline fill="none" stroke="#333" stroke-width="1.1" stroke-linejoin="round" stroke-linecap="round" points="411.3,181.3 411.35,181.07 411.42,180.77 411.49,180.43 411.57,180.04 411.66,179.62 411.76,179.18 411.86,178.71 411.97,178.25 412.09,177.78 412.22,177.33 412.36,176.9 412.5,176.5 412.64,176.12 412.78,175.74 412.92,175.36 413.06,174.99 413.21,174.62 413.38,174.25 413.55,173.88 413.75,173.52 413.97,173.16 414.21,172.81 414.49,172.45 414.8,172.1 415.15,171.75 415.53,171.39 415.94,171.02 416.37,170.66 416.83,170.3 417.31,169.94 417.8,169.6 418.31,169.26 418.82,168.94 419.35,168.64 419.87,168.36 420.4,168.1 420.93,167.87 421.48,167.67 422.05,167.49 422.63,167.33 423.21,167.19 423.81,167.06 424.41,166.93 425.01,166.8 425.61,166.67 426.21,166.53 426.81,166.37 427.4,166.2 428,166.02 428.6,165.83 429.22,165.64 429.84,165.45 430.46,165.25 431.08,165.05 431.69,164.84 432.29,164.63 432.88,164.41 433.44,164.18 433.99,163.95 434.5,163.7 435,163.43 435.5,163.13 435.99,162.81 436.48,162.48 436.95,162.14 437.39,161.79 437.82,161.46 438.21,161.14 438.57,160.85 438.89,160.59 439.17,160.37 439.4,160.2"/>
<circle cx="439.4" cy="160.2" r="0.55" fill="#333333"/>
<circle cx="442.2" cy="158.84" r="0.55" fill="#333333"/>
<circle cx="444.62" cy="157.73" r="0.55" fill="#333333"/>
<circle cx="447.12" cy="156.76" r="0.55" fill="#333333"/>
<circle cx="449.82" cy="155.97" r="0.55" fill="#333333"/>
<circle cx="452.4" cy="156.01" r="0.55" fill="#333333"/>
<circle cx="455.41" cy="156.69" r="0.55" fill="#333333"/>
<circle cx="457.76" cy="157.69" r="0.55" fill="#333333"/>
<circle cx="459.81" cy="159.14" r="0.55" fill="#333333"/>
<circle cx="461.69" cy="161.05" r="0.55" fill="#333333"/>
<circle cx="463.46" cy="163.17" r="0.55" fill="#333333"/>
<circle cx="465.17" cy="165.75" r="0.55" fill="#333333"/>
<circle cx="466.39" cy="168.17" r="0.55" fill="#333333"/>
<circle cx="467.99" cy="170.49" r="0.55" fill="#333333"/>
<circle cx="470.04" cy="169.33" r="0.55" fill="#333333"/>
<circle cx="471.29" cy="166.57" r="0.55" fill="#333333"/>
<circle cx="472.52" cy="163.43" r="0.55" fill="#333333"/>
<circle cx="473.7" cy="160.9" r="0.55" fill="#333333"/>
<circle cx="475.23" cy="158.65" r="0.55" fill="#333333"/>
<circle cx="477.03" cy="156.51" r="0.55" fill="#333333"/>
<circle cx="479.03" cy="154.67" r="0.55" fill="#333333"/>
<circle cx="481.34" cy="153.22" r="0.55" fill="#333333"/>
<circle cx="483.35" cy="151.47" r="0.55" fill="#333333"/>
<circle cx="485.5" cy="149.42" r="0.55" fill="#333333"/>
<circle cx="487.46" cy="147.26" r="0.55" fill="#333333"/>
<circle cx="489.36" cy="144.93" r="0.55" fill="#333333"/>
<circle cx="491.28" cy="142.53" r="0.55" fill="#333333"/>
<circle cx="492.88" cy="140.52" r="0.55" fill="#333333"/>
<circle cx="494.4" cy="138.54" r="0.55" fill="#333333"/>
<circle cx="496.03" cy="136.27" r="0.55" fill="#333333"/>
<circle cx="497.67" cy="133.77" r="0.55" fill="#333333"/>
<circle cx="499.12" cy="131.57" r="0.55" fill="#333333"/>
<circle cx="500.78" cy="129.04" r="0.55" fill="#333333"/>
<polyline fill="none" stroke="#ee1c1c" stroke-width="1.6" stroke-linejoin="round" stroke-linecap="round" points="422.5,182.6 422.53,182.4 422.58,182.14 422.63,181.84 422.68,181.49 422.74,181.12 422.81,180.73 422.87,180.33 422.94,179.93 423.01,179.54 423.08,179.16 423.14,178.81 423.2,178.5 423.24,178.22 423.27,177.97 423.28,177.74 423.28,177.52 423.28,177.31 423.29,177.1 423.31,176.89 423.36,176.67 423.43,176.44 423.54,176.19 423.69,175.91 423.9,175.6 424.15,175.26 424.45,174.88 424.78,174.48 425.14,174.06 425.53,173.63 425.95,173.19 426.39,172.74 426.85,172.3 427.32,171.87 427.81,171.46 428.3,171.07 428.8,170.7 429.31,170.36 429.86,170.02 430.42,169.7 431.01,169.39 431.61,169.09 432.22,168.79 432.84,168.51 433.46,168.23 434.08,167.96 434.7,167.7 435.3,167.45 435.9,167.2 436.5,166.96 437.1,166.74 437.72,166.52 438.34,166.31 438.97,166.12 439.58,165.93 440.19,165.74 440.78,165.55 441.35,165.37 441.9,165.18 442.42,164.99 442.9,164.8 443.35,164.61 443.77,164.42 444.16,164.23 444.53,164.05 444.88,163.87 445.22,163.69 445.54,163.5 445.86,163.31 446.16,163.12 446.47,162.92 446.78,162.72 447.1,162.5 447.42,162.28 447.73,162.05 448.04,161.81 448.34,161.57 448.64,161.33 448.94,161.08 449.23,160.83 449.51,160.57 449.79,160.31 450.07,160.04 450.34,159.77 450.6,159.5 450.87,159.21 451.14,158.89 451.41,158.56 451.69,158.21 451.96,157.86 452.22,157.51 452.47,157.18 452.7,156.86 452.91,156.56 453.1,156.3 453.27,156.08 453.4,155.9"/>
<circle cx="456.2" cy="152.4" r="0.9" fill="#ee1c1c"/>
<circle cx="459" cy="149.6" r="0.9" fill="#ee1c1c"/>
<circle cx="462.5" cy="146.5" r="0.9" fill="#ee1c1c"/>
<circle cx="466.7" cy="144" r="0.9" fill="#ee1c1c"/>
<circle cx="471.6" cy="141.9" r="0.9" fill="#ee1c1c"/>
<circle cx="471.6" cy="141.9" r="0.9" fill="#ee1c1c"/>
<circle cx="475.18" cy="140.19" r="0.9" fill="#ee1c1c"/>
<circle cx="479.53" cy="139.14" r="0.9" fill="#ee1c1c"/>
<circle cx="483.4" cy="138.75" r="0.9" fill="#ee1c1c"/>
<circle cx="487.49" cy="138.62" r="0.9" fill="#ee1c1c"/>
<circle cx="492.09" cy="139.01" r="0.9" fill="#ee1c1c"/>
<circle cx="496.39" cy="139.95" r="0.9" fill="#ee1c1c"/>
<circle cx="500.51" cy="141.3" r="0.9" fill="#ee1c1c"/>
<circle cx="504.37" cy="143.16" r="0.9" fill="#ee1c1c"/>
<circle cx="508.14" cy="145.21" r="0.9" fill="#ee1c1c"/>
<circle cx="512.07" cy="147.26" r="0.9" fill="#ee1c1c"/>
<circle cx="516" cy="149.3" r="0.9" fill="#ee1c1c"/>
<circle cx="519.87" cy="150.85" r="0.9" fill="#ee1c1c"/>
<circle cx="523.94" cy="151.42" r="0.9" fill="#ee1c1c"/>
<circle cx="527.43" cy="149.96" r="0.9" fill="#ee1c1c"/>
<circle cx="530.56" cy="147.73" r="0.9" fill="#ee1c1c"/>
<circle cx="534.27" cy="144.75" r="0.9" fill="#ee1c1c"/>
<circle cx="537.77" cy="141.64" r="0.9" fill="#ee1c1c"/>
<circle cx="541" cy="138.7" r="0.9" fill="#ee1c1c"/>
<line x1="406.5" y1="206.4" x2="406.5" y2="277.5" stroke="#c4c4c4" stroke-width="1.4"/>
<line x1="405.8" y1="277.5" x2="543.2" y2="277.5" stroke="#c4c4c4" stroke-width="1.4"/>
<line x1="406.3" y1="211.5" x2="407.8" y2="211.5" stroke="#666" stroke-width="0.6"/>
<text x="404.7" y="214.08" font-size="7" text-anchor="end" fill="#1a1a1a" textLength="12.25" lengthAdjust="spacingAndGlyphs">0.12</text>
<line x1="406.3" y1="221.5" x2="407.8" y2="221.5" stroke="#666" stroke-width="0.6"/>
<text x="404.7" y="224.28" font-size="7" text-anchor="end" fill="#1a1a1a" textLength="12.25" lengthAdjust="spacingAndGlyphs">0.10</text>
<line x1="406.3" y1="232.5" x2="407.8" y2="232.5" stroke="#666" stroke-width="0.6"/>
<text x="404.7" y="234.48" font-size="7" text-anchor="end" fill="#1a1a1a" textLength="12.25" lengthAdjust="spacingAndGlyphs">0.08</text>
<line x1="406.3" y1="242.5" x2="407.8" y2="242.5" stroke="#666" stroke-width="0.6"/>
<text x="404.7" y="244.68" font-size="7" text-anchor="end" fill="#1a1a1a" textLength="12.25" lengthAdjust="spacingAndGlyphs">0.06</text>
<line x1="406.3" y1="252.5" x2="407.8" y2="252.5" stroke="#666" stroke-width="0.6"/>
<text x="404.7" y="254.88" font-size="7" text-anchor="end" fill="#1a1a1a" textLength="12.25" lengthAdjust="spacingAndGlyphs">0.04</text>
<line x1="406.3" y1="262.5" x2="407.8" y2="262.5" stroke="#666" stroke-width="0.6"/>
<text x="404.7" y="264.98" font-size="7" text-anchor="end" fill="#1a1a1a" textLength="12.25" lengthAdjust="spacingAndGlyphs">0.02</text>
<line x1="406.3" y1="272.5" x2="407.8" y2="272.5" stroke="#666" stroke-width="0.6"/>
<text x="404.7" y="275.18" font-size="7" text-anchor="end" fill="#1a1a1a" textLength="12.25" lengthAdjust="spacingAndGlyphs">0.00</text>
<line x1="417.5" y1="277.5" x2="417.5" y2="276" stroke="#666" stroke-width="0.6"/>
<text x="417.3" y="284.81" font-size="6.8" text-anchor="middle" fill="#1a1a1a" textLength="12.25" lengthAdjust="spacingAndGlyphs">0.25</text>
<line x1="439.5" y1="277.5" x2="439.5" y2="276" stroke="#666" stroke-width="0.6"/>
<text x="439.5" y="284.81" font-size="6.8" text-anchor="middle" fill="#1a1a1a" textLength="12.25" lengthAdjust="spacingAndGlyphs">0.30</text>
<line x1="461.5" y1="277.5" x2="461.5" y2="276" stroke="#666" stroke-width="0.6"/>
<text x="461.8" y="284.81" font-size="6.8" text-anchor="middle" fill="#1a1a1a" textLength="12.25" lengthAdjust="spacingAndGlyphs">0.35</text>
<line x1="484.5" y1="277.5" x2="484.5" y2="276" stroke="#666" stroke-width="0.6"/>
<text x="484" y="284.81" font-size="6.8" text-anchor="middle" fill="#1a1a1a" textLength="12.25" lengthAdjust="spacingAndGlyphs">0.40</text>
<line x1="506.5" y1="277.5" x2="506.5" y2="276" stroke="#666" stroke-width="0.6"/>
<text x="506.3" y="284.81" font-size="6.8" text-anchor="middle" fill="#1a1a1a" textLength="12.25" lengthAdjust="spacingAndGlyphs">0.45</text>
<line x1="528.5" y1="277.5" x2="528.5" y2="276" stroke="#666" stroke-width="0.6"/>
<text x="528.5" y="284.81" font-size="6.8" text-anchor="middle" fill="#1a1a1a" textLength="12.25" lengthAdjust="spacingAndGlyphs">0.50</text>
<line x1="406.8" y1="272.8" x2="543.2" y2="272.8" stroke="#c4f2bc" stroke-width="1.6"/>
<text class="b" x="377.5" y="217" font-size="11.3" text-anchor="start" fill="#1a1a1a" textLength="12.4" lengthAdjust="spacingAndGlyphs">(k)</text>
<text x="417" y="212.5" font-size="7" text-anchor="start" fill="#1a1a1a" textLength="48" lengthAdjust="spacingAndGlyphs">NCM-400 cycles</text>
<text x="386.5" y="244.47" font-size="7.4" text-anchor="middle" fill="#1a1a1a" transform="rotate(-90 386.5 241.95)" textLength="36.5" lengthAdjust="spacingAndGlyphs">-Im(Z)/Ohm</text>
<text x="476.4" y="293.6" font-size="7.4" text-anchor="middle" fill="#1a1a1a" textLength="32.5" lengthAdjust="spacingAndGlyphs">Re(Z)/Ohm</text>
<polyline fill="none" stroke="#333" stroke-width="1.1" stroke-linejoin="round" stroke-linecap="round" points="412.9,277.3 413,276.91 413.12,276.39 413.25,275.77 413.39,275.08 413.55,274.33 413.73,273.56 413.93,272.77 414.14,272 414.37,271.26 414.63,270.58 414.9,269.99 415.2,269.5 415.52,269.1 415.87,268.77 416.23,268.49 416.62,268.25 417.03,268.05 417.46,267.88 417.9,267.73 418.36,267.59 418.83,267.46 419.31,267.32 419.8,267.17 420.3,267 420.82,266.82 421.39,266.65 421.97,266.49 422.59,266.33 423.21,266.18 423.84,266.03 424.46,265.88 425.08,265.73 425.68,265.58 426.26,265.43 426.8,265.27 427.3,265.1 427.76,264.93 428.2,264.76 428.62,264.6 429.01,264.43 429.39,264.26 429.75,264.09 430.1,263.91 430.44,263.73 430.78,263.53 431.12,263.33 431.46,263.12 431.8,262.9 432.15,262.65 432.52,262.38 432.89,262.07 433.26,261.76 433.63,261.44 433.98,261.11 434.32,260.8 434.64,260.5 434.93,260.22 435.19,259.97 435.42,259.76 435.6,259.6"/>
<circle cx="435" cy="260.4" r="0.55" fill="#333333"/>
<circle cx="437.58" cy="258.8" r="0.55" fill="#333333"/>
<circle cx="439.89" cy="257.5" r="0.55" fill="#333333"/>
<circle cx="442.66" cy="256.42" r="0.55" fill="#333333"/>
<circle cx="445.54" cy="255.7" r="0.55" fill="#333333"/>
<circle cx="448.19" cy="255.37" r="0.55" fill="#333333"/>
<circle cx="450.92" cy="255.47" r="0.55" fill="#333333"/>
<circle cx="453.8" cy="256.35" r="0.55" fill="#333333"/>
<circle cx="456.03" cy="257.84" r="0.55" fill="#333333"/>
<circle cx="458.26" cy="259.61" r="0.55" fill="#333333"/>
<circle cx="460.54" cy="261.61" r="0.55" fill="#333333"/>
<circle cx="462.71" cy="263.8" r="0.55" fill="#333333"/>
<circle cx="464.43" cy="266.1" r="0.55" fill="#333333"/>
<circle cx="466.56" cy="267.08" r="0.55" fill="#333333"/>
<circle cx="468.05" cy="264.72" r="0.55" fill="#333333"/>
<circle cx="469.45" cy="262.36" r="0.55" fill="#333333"/>
<circle cx="471.2" cy="259.93" r="0.55" fill="#333333"/>
<circle cx="472.92" cy="257.56" r="0.55" fill="#333333"/>
<circle cx="474.68" cy="255.15" r="0.55" fill="#333333"/>
<circle cx="476.54" cy="252.62" r="0.55" fill="#333333"/>
<circle cx="478.52" cy="249.98" r="0.55" fill="#333333"/>
<circle cx="480.18" cy="247.81" r="0.55" fill="#333333"/>
<circle cx="482.07" cy="245.32" r="0.55" fill="#333333"/>
<polyline fill="none" stroke="#ee1c1c" stroke-width="1.4" stroke-linejoin="round" stroke-linecap="round" points="465,277.4 465.05,277.06 465.11,276.63 465.16,276.12 465.21,275.54 465.28,274.92 465.36,274.26 465.46,273.59 465.59,272.91 465.74,272.25 465.92,271.62 466.14,271.03 466.4,270.5 466.7,270.01 467.03,269.52 467.38,269.04 467.77,268.58 468.18,268.12 468.62,267.69 469.09,267.27 469.58,266.87 470.1,266.49 470.64,266.13 471.21,265.8 471.8,265.5 472.44,265.24 473.14,265.01 473.9,264.83 474.69,264.67 475.51,264.53 476.34,264.41 477.18,264.29 478,264.18 478.79,264.06 479.55,263.93 480.26,263.78 480.9,263.6 481.48,263.41 482.03,263.22 482.53,263.02 483,262.83 483.45,262.62 483.88,262.41 484.3,262.19 484.71,261.96 485.12,261.72 485.53,261.46 485.96,261.19 486.4,260.9 486.87,260.57 487.37,260.2 487.88,259.8 488.41,259.37 488.93,258.92 489.44,258.48 489.94,258.05 490.4,257.63 490.83,257.25 491.21,256.91 491.54,256.62 491.8,256.4"/>
<circle cx="491.8" cy="256.4" r="0.8" fill="#ee1c1c"/>
<circle cx="494.77" cy="254.24" r="0.8" fill="#ee1c1c"/>
<circle cx="498.34" cy="252.11" r="0.8" fill="#ee1c1c"/>
<circle cx="501.61" cy="250.99" r="0.8" fill="#ee1c1c"/>
<circle cx="505.4" cy="250.1" r="0.8" fill="#ee1c1c"/>
<circle cx="509.14" cy="249.63" r="0.8" fill="#ee1c1c"/>
<circle cx="513.17" cy="249.85" r="0.8" fill="#ee1c1c"/>
<circle cx="516.87" cy="250.78" r="0.8" fill="#ee1c1c"/>
<circle cx="520.72" cy="252.09" r="0.8" fill="#ee1c1c"/>
<circle cx="524.22" cy="253.62" r="0.8" fill="#ee1c1c"/>
<circle cx="527.76" cy="255.3" r="0.8" fill="#ee1c1c"/>
<circle cx="528.2" cy="255.5" r="0.8" fill="#ee1c1c"/>
<circle cx="529.49" cy="256.25" r="0.8" fill="#ee1c1c"/>
<circle cx="530.93" cy="257.03" r="0.8" fill="#ee1c1c"/>
<circle cx="532.34" cy="257.62" r="0.8" fill="#ee1c1c"/>
<circle cx="533.77" cy="258.05" r="0.8" fill="#ee1c1c"/>
<circle cx="535.2" cy="258.34" r="0.8" fill="#ee1c1c"/>
<circle cx="536.81" cy="258.35" r="0.8" fill="#ee1c1c"/>
<circle cx="538.19" cy="257.96" r="0.8" fill="#ee1c1c"/>
<circle cx="539.5" cy="257.3" r="0.8" fill="#ee1c1c"/>
<circle cx="540.63" cy="256.48" r="0.8" fill="#ee1c1c"/>
<circle cx="541.73" cy="255.5" r="0.8" fill="#ee1c1c"/>
<line x1="406.5" y1="300.1" x2="406.5" y2="371" stroke="#c4c4c4" stroke-width="1.4"/>
<line x1="405.8" y1="371.5" x2="543.2" y2="371.5" stroke="#c4c4c4" stroke-width="1.4"/>
<line x1="406.3" y1="306.5" x2="407.8" y2="306.5" stroke="#666" stroke-width="0.6"/>
<text x="404.7" y="308.88" font-size="7" text-anchor="end" fill="#1a1a1a" textLength="12.25" lengthAdjust="spacingAndGlyphs">0.09</text>
<line x1="406.3" y1="323.5" x2="407.8" y2="323.5" stroke="#666" stroke-width="0.6"/>
<text x="404.7" y="326.28" font-size="7" text-anchor="end" fill="#1a1a1a" textLength="12.25" lengthAdjust="spacingAndGlyphs">0.06</text>
<line x1="406.3" y1="341.5" x2="407.8" y2="341.5" stroke="#666" stroke-width="0.6"/>
<text x="404.7" y="343.78" font-size="7" text-anchor="end" fill="#1a1a1a" textLength="12.25" lengthAdjust="spacingAndGlyphs">0.03</text>
<line x1="406.3" y1="359.5" x2="407.8" y2="359.5" stroke="#666" stroke-width="0.6"/>
<text x="404.7" y="361.48" font-size="7" text-anchor="end" fill="#1a1a1a" textLength="12.25" lengthAdjust="spacingAndGlyphs">0.00</text>
<line x1="406.5" y1="371" x2="406.5" y2="369.5" stroke="#666" stroke-width="0.6"/>
<text x="406.3" y="378.31" font-size="6.8" text-anchor="middle" fill="#1a1a1a" textLength="12.25" lengthAdjust="spacingAndGlyphs">0.15</text>
<line x1="428.5" y1="371" x2="428.5" y2="369.5" stroke="#666" stroke-width="0.6"/>
<text x="428.9" y="378.31" font-size="6.8" text-anchor="middle" fill="#1a1a1a" textLength="12.25" lengthAdjust="spacingAndGlyphs">0.20</text>
<line x1="451.5" y1="371" x2="451.5" y2="369.5" stroke="#666" stroke-width="0.6"/>
<text x="451.5" y="378.31" font-size="6.8" text-anchor="middle" fill="#1a1a1a" textLength="12.25" lengthAdjust="spacingAndGlyphs">0.25</text>
<line x1="474.5" y1="371" x2="474.5" y2="369.5" stroke="#666" stroke-width="0.6"/>
<text x="474.1" y="378.31" font-size="6.8" text-anchor="middle" fill="#1a1a1a" textLength="12.25" lengthAdjust="spacingAndGlyphs">0.30</text>
<line x1="496.5" y1="371" x2="496.5" y2="369.5" stroke="#666" stroke-width="0.6"/>
<text x="496.7" y="378.31" font-size="6.8" text-anchor="middle" fill="#1a1a1a" textLength="12.25" lengthAdjust="spacingAndGlyphs">0.35</text>
<line x1="519.5" y1="371" x2="519.5" y2="369.5" stroke="#666" stroke-width="0.6"/>
<text x="519.3" y="378.31" font-size="6.8" text-anchor="middle" fill="#1a1a1a" textLength="12.25" lengthAdjust="spacingAndGlyphs">0.40</text>
<line x1="541.5" y1="371" x2="541.5" y2="369.5" stroke="#666" stroke-width="0.6"/>
<text x="541.9" y="378.31" font-size="6.8" text-anchor="middle" fill="#1a1a1a" textLength="12.25" lengthAdjust="spacingAndGlyphs">0.45</text>
<line x1="406.8" y1="359.4" x2="543.2" y2="359.4" stroke="#c4f2bc" stroke-width="1.8"/>
<text class="b" x="377.5" y="310" font-size="11.3" text-anchor="start" fill="#1a1a1a" textLength="10.2" lengthAdjust="spacingAndGlyphs">(l)</text>
<text x="417" y="305.5" font-size="7" text-anchor="start" fill="#1a1a1a" textLength="48" lengthAdjust="spacingAndGlyphs">NCM-800 cycles</text>
<text x="386.5" y="338.07" font-size="7.4" text-anchor="middle" fill="#1a1a1a" transform="rotate(-90 386.5 335.55)" textLength="36.5" lengthAdjust="spacingAndGlyphs">-Im(Z)/Ohm</text>
<text x="476.9" y="387.1" font-size="7.4" text-anchor="middle" fill="#1a1a1a" textLength="32.5" lengthAdjust="spacingAndGlyphs">Re(Z)/Ohm</text>
<polyline fill="none" stroke="#333" stroke-width="1.1" stroke-linejoin="round" stroke-linecap="round" points="420.7,366.3 420.78,365.99 420.88,365.61 420.99,365.15 421.11,364.64 421.25,364.09 421.39,363.51 421.55,362.9 421.72,362.29 421.9,361.68 422.09,361.09 422.29,360.52 422.5,360 422.71,359.5 422.92,358.99 423.13,358.48 423.34,357.98 423.57,357.48 423.81,356.98 424.07,356.5 424.36,356.02 424.67,355.56 425.01,355.12 425.38,354.7 425.8,354.3 426.26,353.92 426.78,353.57 427.33,353.24 427.92,352.92 428.53,352.62 429.17,352.33 429.82,352.04 430.47,351.77 431.12,351.5 431.77,351.24 432.39,350.97 433,350.7 433.6,350.43 434.22,350.18 434.84,349.93 435.47,349.69 436.1,349.45 436.72,349.21 437.33,348.98 437.92,348.75 438.49,348.52 439.03,348.28 439.53,348.04 440,347.8 440.44,347.54 440.85,347.27 441.24,346.99 441.61,346.7 441.96,346.41 442.29,346.12 442.59,345.84 442.86,345.58 443.11,345.34 443.34,345.13 443.53,344.95 443.7,344.8"/>
<circle cx="443.7" cy="344.8" r="0.55" fill="#333333"/>
<circle cx="445.17" cy="342.11" r="0.55" fill="#333333"/>
<circle cx="446.77" cy="339.63" r="0.55" fill="#333333"/>
<circle cx="448.51" cy="337.53" r="0.55" fill="#333333"/>
<circle cx="450.86" cy="335.91" r="0.55" fill="#333333"/>
<circle cx="453.22" cy="334.72" r="0.55" fill="#333333"/>
<circle cx="455.47" cy="333.23" r="0.55" fill="#333333"/>
<circle cx="457.79" cy="331.71" r="0.55" fill="#333333"/>
<circle cx="460.39" cy="330.61" r="0.55" fill="#333333"/>
<circle cx="463.14" cy="329.74" r="0.55" fill="#333333"/>
<circle cx="465.91" cy="328.87" r="0.55" fill="#333333"/>
<circle cx="468.66" cy="328.24" r="0.55" fill="#333333"/>
<circle cx="471.63" cy="328.36" r="0.55" fill="#333333"/>
<circle cx="474.37" cy="329.15" r="0.55" fill="#333333"/>
<circle cx="476.8" cy="330.63" r="0.55" fill="#333333"/>
<circle cx="479.3" cy="331.97" r="0.55" fill="#333333"/>
<circle cx="481.94" cy="333.06" r="0.55" fill="#333333"/>
<circle cx="484.23" cy="335.19" r="0.55" fill="#333333"/>
<circle cx="486.15" cy="337.65" r="0.55" fill="#333333"/>
<circle cx="488.07" cy="340" r="0.55" fill="#333333"/>
<circle cx="489.99" cy="342.22" r="0.55" fill="#333333"/>
<circle cx="491.8" cy="344.5" r="0.55" fill="#333333"/>
<circle cx="493.06" cy="347" r="0.55" fill="#333333"/>
<circle cx="494.24" cy="349.56" r="0.55" fill="#333333"/>
<circle cx="496.21" cy="349.67" r="0.55" fill="#333333"/>
<circle cx="497.76" cy="346.42" r="0.55" fill="#333333"/>
<circle cx="498.92" cy="343.42" r="0.55" fill="#333333"/>
<circle cx="500" cy="340.9" r="0.55" fill="#333333"/>
<circle cx="501.25" cy="338.53" r="0.55" fill="#333333"/>
<circle cx="502.69" cy="336.02" r="0.55" fill="#333333"/>
<circle cx="504.25" cy="333.43" r="0.55" fill="#333333"/>
<circle cx="505.96" cy="330.73" r="0.55" fill="#333333"/>
<circle cx="507.6" cy="328.2" r="0.55" fill="#333333"/>
<circle cx="509.19" cy="325.73" r="0.55" fill="#333333"/>
<circle cx="510.74" cy="323.34" r="0.55" fill="#333333"/>
<circle cx="421.9" cy="368.7" r="0.85" fill="#ee1c1c"/>
<circle cx="421.99" cy="367.85" r="0.85" fill="#ee1c1c"/>
<circle cx="422.11" cy="366.62" r="0.85" fill="#ee1c1c"/>
<circle cx="422.2" cy="365.71" r="0.85" fill="#ee1c1c"/>
<circle cx="422.3" cy="364.81" r="0.85" fill="#ee1c1c"/>
<circle cx="422.4" cy="364" r="0.85" fill="#ee1c1c"/>
<circle cx="422.49" cy="362.91" r="0.85" fill="#ee1c1c"/>
<circle cx="422.54" cy="361.86" r="0.85" fill="#ee1c1c"/>
<circle cx="422.7" cy="360.8" r="0.85" fill="#ee1c1c"/>
<circle cx="423.1" cy="359.7" r="0.85" fill="#ee1c1c"/>
<circle cx="423.54" cy="358.91" r="0.85" fill="#ee1c1c"/>
<circle cx="424.09" cy="358.07" r="0.85" fill="#ee1c1c"/>
<circle cx="424.72" cy="357.21" r="0.85" fill="#ee1c1c"/>
<circle cx="425.43" cy="356.38" r="0.85" fill="#ee1c1c"/>
<circle cx="426.19" cy="355.6" r="0.85" fill="#ee1c1c"/>
<circle cx="427" cy="354.9" r="0.85" fill="#ee1c1c"/>
<circle cx="427.88" cy="354.3" r="0.85" fill="#ee1c1c"/>
<circle cx="428.84" cy="353.77" r="0.85" fill="#ee1c1c"/>
<circle cx="429.87" cy="353.3" r="0.85" fill="#ee1c1c"/>
<circle cx="430.92" cy="352.86" r="0.85" fill="#ee1c1c"/>
<circle cx="431.98" cy="352.43" r="0.85" fill="#ee1c1c"/>
<circle cx="433" cy="352" r="0.85" fill="#ee1c1c"/>
<circle cx="434.02" cy="351.57" r="0.85" fill="#ee1c1c"/>
<circle cx="435.05" cy="351.16" r="0.85" fill="#ee1c1c"/>
<circle cx="436.08" cy="350.77" r="0.85" fill="#ee1c1c"/>
<circle cx="437.1" cy="350.38" r="0.85" fill="#ee1c1c"/>
<circle cx="438.08" cy="349.99" r="0.85" fill="#ee1c1c"/>
<circle cx="439" cy="349.6" r="0.85" fill="#ee1c1c"/>
<circle cx="439.88" cy="349.21" r="0.85" fill="#ee1c1c"/>
<circle cx="440.73" cy="348.84" r="0.85" fill="#ee1c1c"/>
<circle cx="441.54" cy="348.48" r="0.85" fill="#ee1c1c"/>
<circle cx="442.31" cy="348.09" r="0.85" fill="#ee1c1c"/>
<circle cx="443.03" cy="347.67" r="0.85" fill="#ee1c1c"/>
<circle cx="443.7" cy="347.2" r="0.85" fill="#ee1c1c"/>
<circle cx="444.33" cy="346.63" r="0.85" fill="#ee1c1c"/>
<circle cx="444.94" cy="345.96" r="0.85" fill="#ee1c1c"/>
<circle cx="445.49" cy="345.25" r="0.85" fill="#ee1c1c"/>
<circle cx="445.99" cy="344.58" r="0.85" fill="#ee1c1c"/>
<circle cx="446.56" cy="343.78" r="0.85" fill="#ee1c1c"/>
<circle cx="449.7" cy="341.8" r="0.95" fill="#ee1c1c"/>
<circle cx="451.83" cy="339.19" r="0.95" fill="#ee1c1c"/>
<circle cx="454.11" cy="336.66" r="0.95" fill="#ee1c1c"/>
<circle cx="456.4" cy="334.5" r="0.95" fill="#ee1c1c"/>
<circle cx="458.99" cy="332.62" r="0.95" fill="#ee1c1c"/>
<circle cx="461.8" cy="330.9" r="0.95" fill="#ee1c1c"/>
<circle cx="464.66" cy="329.53" r="0.95" fill="#ee1c1c"/>
<circle cx="467.66" cy="328.37" r="0.95" fill="#ee1c1c"/>
<circle cx="470.9" cy="327.6" r="0.95" fill="#ee1c1c"/>
<circle cx="473.94" cy="327.04" r="0.95" fill="#ee1c1c"/>
<circle cx="476.97" cy="326.91" r="0.95" fill="#ee1c1c"/>
<circle cx="480" cy="327.3" r="0.95" fill="#ee1c1c"/>
<circle cx="483.23" cy="328.04" r="0.95" fill="#ee1c1c"/>
<circle cx="486.31" cy="328.96" r="0.95" fill="#ee1c1c"/>
<circle cx="489.26" cy="330.08" r="0.95" fill="#ee1c1c"/>
<circle cx="492.24" cy="331.48" r="0.95" fill="#ee1c1c"/>
<circle cx="494.88" cy="332.92" r="0.95" fill="#ee1c1c"/>
<circle cx="497.64" cy="334.56" r="0.95" fill="#ee1c1c"/>
<circle cx="500.3" cy="336.42" r="0.95" fill="#ee1c1c"/>
<circle cx="503.09" cy="338.42" r="0.95" fill="#ee1c1c"/>
<circle cx="505.88" cy="339.85" r="0.95" fill="#ee1c1c"/>
<circle cx="509.02" cy="340.48" r="0.95" fill="#ee1c1c"/>
<circle cx="512.01" cy="339.24" r="0.95" fill="#ee1c1c"/>
<circle cx="514.35" cy="336.78" r="0.95" fill="#ee1c1c"/>
<circle cx="516.13" cy="334.01" r="0.95" fill="#ee1c1c"/>
<circle cx="517.83" cy="331.32" r="0.95" fill="#ee1c1c"/>
<circle cx="519.52" cy="328.35" r="0.95" fill="#ee1c1c"/>
<circle cx="521.1" cy="325.31" r="0.95" fill="#ee1c1c"/>
<circle cx="522.42" cy="322.56" r="0.95" fill="#ee1c1c"/>
<circle cx="523.73" cy="319.7" r="0.95" fill="#ee1c1c"/>
</svg>
</body></html>
